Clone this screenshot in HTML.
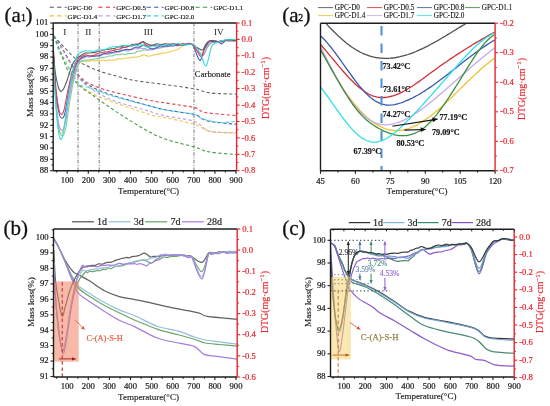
<!DOCTYPE html>
<html><head><meta charset="utf-8"><style>
html,body{margin:0;padding:0;background:#fff;width:550px;height:406px;overflow:hidden}
svg{display:block;filter:blur(0.45px)}
</style></head><body>
<svg width="550" height="406" viewBox="0 0 550 406">
<rect width="550" height="406" fill="#ffffff"/>
<line x1="49.6" y1="7.3" x2="66.6" y2="7.3" stroke="#555555" stroke-width="1.10" stroke-dasharray="4.3,3.2"/>
<text x="67.6" y="9.9" font-family="Liberation Serif" font-size="7.0" fill="#1a1a1a" stroke="#1a1a1a" stroke-width="0.18" text-anchor="start" >GPC-D0</text>
<line x1="98.2" y1="7.3" x2="115.2" y2="7.3" stroke="#e0303a" stroke-width="1.10" stroke-dasharray="4.3,3.2"/>
<text x="116.2" y="9.9" font-family="Liberation Serif" font-size="7.0" fill="#1a1a1a" stroke="#1a1a1a" stroke-width="0.18" text-anchor="start" >GPC-D0.5</text>
<line x1="146.6" y1="7.3" x2="163.6" y2="7.3" stroke="#3a56a8" stroke-width="1.10" stroke-dasharray="4.3,3.2"/>
<text x="164.6" y="9.9" font-family="Liberation Serif" font-size="7.0" fill="#1a1a1a" stroke="#1a1a1a" stroke-width="0.18" text-anchor="start" >GPC-D0.8</text>
<line x1="195.4" y1="7.3" x2="212.4" y2="7.3" stroke="#3c9a3c" stroke-width="1.10" stroke-dasharray="4.3,3.2"/>
<text x="213.4" y="9.9" font-family="Liberation Serif" font-size="7.0" fill="#1a1a1a" stroke="#1a1a1a" stroke-width="0.18" text-anchor="start" >GPC-D1.1</text>
<line x1="49.6" y1="15.9" x2="66.6" y2="15.9" stroke="#f0c030" stroke-width="1.10" stroke-dasharray="4.3,3.2"/>
<text x="67.6" y="18.5" font-family="Liberation Serif" font-size="7.0" fill="#1a1a1a" stroke="#1a1a1a" stroke-width="0.18" text-anchor="start" >GPC-D1.4</text>
<line x1="98.2" y1="15.9" x2="115.2" y2="15.9" stroke="#c8a0e0" stroke-width="1.10" stroke-dasharray="4.3,3.2"/>
<text x="116.2" y="18.5" font-family="Liberation Serif" font-size="7.0" fill="#1a1a1a" stroke="#1a1a1a" stroke-width="0.18" text-anchor="start" >GPC-D1.7</text>
<line x1="146.6" y1="15.9" x2="163.6" y2="15.9" stroke="#30d8e0" stroke-width="1.10" stroke-dasharray="4.3,3.2"/>
<text x="164.6" y="18.5" font-family="Liberation Serif" font-size="7.0" fill="#1a1a1a" stroke="#1a1a1a" stroke-width="0.18" text-anchor="start" >GPC-D2.0</text>
<text x="4.4" y="21.5" font-family="Liberation Serif" font-size="21.0" fill="#111" stroke="#111" stroke-width="0.30" text-anchor="start" >(a</text>
<text x="20.9" y="21.4" font-family="Liberation Serif" font-size="9.8" fill="#111" stroke="#111" stroke-width="0.35" text-anchor="start" >1</text>
<text x="25.4" y="21.5" font-family="Liberation Serif" font-size="21.0" fill="#111" stroke="#111" stroke-width="0.30" text-anchor="start" >)</text>
<line x1="78.0" y1="23.0" x2="78.0" y2="170.7" stroke="#6a6a6a" stroke-width="0.90" stroke-dasharray="3.6,1.5,1,1.5"/>
<line x1="99.2" y1="23.0" x2="99.2" y2="170.7" stroke="#6a6a6a" stroke-width="0.90" stroke-dasharray="3.6,1.5,1,1.5"/>
<line x1="194.0" y1="23.0" x2="194.0" y2="170.7" stroke="#6a6a6a" stroke-width="0.90" stroke-dasharray="3.6,1.5,1,1.5"/>
<path d="M54.0,36.0 C55.0,37.2 57.5,40.0 60.3,43.0 C63.1,46.0 67.5,51.0 70.7,54.1 C73.9,57.2 76.1,59.8 79.3,61.9 C82.5,64.0 86.2,65.4 89.7,67.0 C93.2,68.6 95.0,69.7 100.0,71.4 C105.0,73.1 114.2,75.5 120.0,77.0 C125.8,78.5 127.8,79.3 134.5,80.5 C141.2,81.7 150.0,82.5 160.0,83.9 C170.0,85.3 186.3,87.4 194.5,88.9 C202.7,90.4 202.4,91.9 209.3,92.8 C216.2,93.7 231.6,94.0 236.0,94.2" fill="none" stroke="#666666" stroke-width="1.10" stroke-dasharray="3.2,2.4" stroke-linejoin="round" />
<path d="M54.0,36.0 C55.3,38.0 59.3,43.7 62.0,48.0 C64.7,52.3 67.2,57.4 70.0,62.0 C72.8,66.6 75.7,71.8 79.0,75.5 C82.3,79.2 84.5,81.3 90.0,84.0 C95.5,86.7 102.2,89.0 112.2,91.7 C122.2,94.4 141.2,98.5 150.0,100.4 C158.8,102.3 157.6,101.7 165.0,102.9 C172.4,104.1 187.8,106.0 194.5,107.6 C201.2,109.2 198.4,111.2 205.3,112.5 C212.2,113.8 230.9,115.0 236.0,115.5" fill="none" stroke="#e04048" stroke-width="1.10" stroke-dasharray="3.2,2.4" stroke-linejoin="round" />
<path d="M54.0,36.0 C55.5,38.3 60.2,45.3 63.0,50.0 C65.8,54.7 68.3,59.5 71.0,64.0 C73.7,68.5 75.8,73.3 79.0,77.0 C82.2,80.7 84.5,83.0 90.0,86.0 C95.5,89.0 102.0,91.7 112.0,95.0 C122.0,98.3 141.2,103.5 150.0,106.0 C158.8,108.5 157.6,108.4 165.0,109.8 C172.4,111.2 188.4,113.1 194.5,114.5 C200.6,115.9 198.9,117.2 201.4,118.4 C203.9,119.6 203.5,120.4 209.3,121.4 C215.1,122.4 231.6,123.8 236.0,124.3" fill="none" stroke="#4864b0" stroke-width="1.10" stroke-dasharray="3.2,2.4" stroke-linejoin="round" />
<path d="M54.0,36.0 C55.3,38.2 59.3,44.5 62.0,49.0 C64.7,53.5 67.2,58.2 70.0,63.0 C72.8,67.8 75.7,73.8 79.0,78.0 C82.3,82.2 84.5,84.3 90.0,88.0 C95.5,91.7 102.0,96.1 112.0,100.0 C122.0,103.9 141.2,108.8 150.0,111.5 C158.8,114.2 157.6,114.2 165.0,115.9 C172.4,117.6 187.1,118.9 194.5,121.4 C201.9,124.0 202.4,129.3 209.3,131.2 C216.2,133.1 231.6,132.5 236.0,132.8" fill="none" stroke="#bca0e2" stroke-width="1.10" stroke-dasharray="3.2,2.4" stroke-linejoin="round" />
<path d="M54.0,36.0 C54.8,38.0 57.0,43.7 59.0,48.0 C61.0,52.3 62.7,56.0 66.0,62.0 C69.3,68.0 75.0,79.0 79.0,84.0 C83.0,89.0 85.9,89.6 90.0,92.0 C94.1,94.4 93.6,94.8 103.6,98.6 C113.6,102.4 139.8,111.4 150.0,114.6 C160.2,117.8 157.6,116.0 165.0,117.6 C172.4,119.2 187.1,122.1 194.5,124.3 C201.9,126.5 202.4,129.5 209.3,131.0 C216.2,132.5 231.6,132.8 236.0,133.2" fill="none" stroke="#f0c448" stroke-width="1.10" stroke-dasharray="3.2,2.4" stroke-linejoin="round" />
<path d="M54.0,36.0 C54.8,38.3 56.7,45.3 58.6,49.8 C60.5,54.3 62.1,57.2 65.5,62.8 C68.9,68.4 74.9,79.2 79.0,83.4 C83.1,87.6 84.5,85.9 90.0,88.0 C95.5,90.1 102.0,93.0 112.0,96.0 C122.0,99.0 141.2,103.7 150.0,106.0 C158.8,108.3 157.6,108.4 165.0,109.8 C172.4,111.2 188.4,113.1 194.5,114.5 C200.6,115.9 197.3,117.1 201.4,118.4 C205.5,119.7 213.3,121.9 219.1,122.4 C224.9,122.9 233.2,121.6 236.0,121.4" fill="none" stroke="#48d8e8" stroke-width="1.10" stroke-dasharray="3.2,2.4" stroke-linejoin="round" />
<path d="M54.0,36.0 C55.3,39.3 59.5,49.7 62.0,55.9 C64.5,62.1 66.2,68.2 69.0,73.1 C71.8,78.0 74.7,81.2 79.0,85.2 C83.3,89.2 89.5,92.9 95.0,96.9 C100.5,100.9 106.5,105.1 112.2,109.0 C118.0,112.9 123.8,116.6 129.5,120.2 C135.2,123.8 140.8,127.3 146.7,130.5 C152.6,133.7 157.0,136.3 165.0,139.1 C173.0,141.8 187.1,144.9 194.5,147.0 C201.9,149.1 202.4,150.7 209.3,151.9 C216.2,153.2 231.6,154.1 236.0,154.5" fill="none" stroke="#449c44" stroke-width="1.10" stroke-dasharray="3.2,2.4" stroke-linejoin="round" />
<path d="M53.5,60.0 C53.9,67.5 55.1,93.7 56.0,105.0 C56.9,116.3 58.1,123.3 59.0,128.0 C59.9,132.7 60.3,133.4 61.1,133.2 C61.9,133.0 62.9,131.9 64.0,127.0 C65.2,122.1 66.5,111.8 68.0,104.0 C69.5,96.2 71.3,86.5 73.0,80.0 C74.7,73.5 76.2,68.2 78.0,65.0 C79.8,61.8 82.5,61.6 84.0,61.0 C85.5,60.4 86.0,61.7 87.0,61.7 C88.0,61.7 89.1,61.2 90.0,61.0 C90.9,60.8 91.7,60.2 92.5,60.2 C93.3,60.2 94.2,61.1 95.0,61.1 C95.8,61.1 96.7,60.1 97.5,60.1 C98.3,60.2 99.2,61.3 100.0,61.2 C100.8,61.1 101.7,59.8 102.5,59.7 C103.3,59.6 104.2,60.7 105.0,60.8 C105.8,60.9 106.7,60.5 107.5,60.4 C108.3,60.2 109.2,60.0 110.0,60.0 C110.8,60.0 111.7,60.2 112.5,60.3 C113.3,60.3 114.2,60.4 115.0,60.2 C115.8,60.0 116.7,59.1 117.5,58.9 C118.3,58.6 119.2,58.7 120.0,58.8 C120.8,58.8 121.7,59.1 122.5,59.0 C123.3,58.9 124.2,58.4 125.0,58.2 C125.8,58.0 126.7,58.0 127.5,57.9 C128.3,57.9 129.2,58.1 130.0,58.0 C130.8,57.9 131.7,57.2 132.5,57.1 C133.3,57.0 134.2,57.5 135.0,57.5 C135.8,57.5 136.7,57.2 137.5,57.0 C138.3,56.8 139.2,56.7 140.0,56.4 C140.8,56.1 141.7,55.3 142.5,55.1 C143.3,54.9 144.2,54.8 145.0,55.0 C145.8,55.2 146.7,55.9 147.5,56.1 C148.3,56.3 149.2,56.1 150.0,56.0 C150.8,55.9 151.7,55.7 152.5,55.5 C153.3,55.3 154.2,54.8 155.0,54.6 C155.8,54.4 156.7,54.6 157.5,54.4 C158.3,54.3 159.2,54.1 160.0,53.9 C160.8,53.6 161.7,53.0 162.5,52.9 C163.3,52.8 164.2,53.2 165.0,53.1 C165.8,53.0 166.7,52.5 167.5,52.3 C168.3,52.1 169.2,52.2 170.0,52.0 C170.8,51.8 171.7,51.4 172.5,51.1 C173.3,50.8 174.2,50.3 175.0,50.0 C175.8,49.7 176.7,49.7 177.5,49.4 C178.3,49.0 179.2,48.2 180.0,47.7 C180.8,47.2 181.7,46.6 182.5,46.1 C183.3,45.7 184.2,45.2 185.0,45.0 C185.8,44.8 186.7,45.0 187.5,44.8 C188.3,44.6 188.9,43.6 190.0,43.6 C191.1,43.6 192.7,43.9 194.0,45.0 C195.3,46.1 196.5,48.3 198.0,50.0 C199.5,51.7 201.5,55.3 203.0,55.0 C204.5,54.7 205.7,50.0 207.0,48.0 C208.3,46.0 209.7,43.9 211.0,43.0 C212.3,42.1 213.4,42.7 214.7,42.6 C215.9,42.4 217.3,42.1 218.3,42.0 C219.3,41.9 220.0,41.9 220.9,41.8 C221.7,41.7 222.6,41.5 223.4,41.3 C224.3,41.1 225.2,40.5 226.0,40.5 C226.8,40.5 227.7,41.1 228.5,41.1 C229.3,41.1 230.2,40.4 231.0,40.5 C231.8,40.6 232.7,41.3 233.5,41.4 C234.3,41.5 235.6,41.1 236.0,41.0" fill="none" stroke="#f0cc50" stroke-width="1.10" stroke-linejoin="round" />
<path d="M53.5,58.0 C53.9,65.8 55.1,93.0 56.0,105.0 C56.9,117.0 57.8,124.9 59.0,130.0 C60.2,135.1 61.8,135.9 63.0,135.4 C64.2,134.9 64.8,132.9 66.0,127.0 C67.2,121.1 68.5,108.7 70.0,100.0 C71.5,91.3 73.3,81.3 75.0,75.0 C76.7,68.7 77.8,64.5 80.0,62.0 C82.2,59.5 86.3,60.3 88.0,60.0 C89.7,59.7 89.2,60.1 90.0,60.0 C90.8,59.9 91.7,59.5 92.5,59.3 C93.3,59.1 94.2,59.1 95.0,59.0 C95.8,58.8 96.7,58.6 97.5,58.4 C98.3,58.2 99.2,58.1 100.0,57.9 C100.8,57.8 101.7,57.5 102.5,57.4 C103.3,57.3 104.2,57.4 105.0,57.2 C105.8,57.0 106.7,56.4 107.5,56.2 C108.3,56.0 109.2,56.0 110.0,56.0 C110.8,56.0 111.7,56.1 112.5,55.9 C113.3,55.7 114.2,54.9 115.0,54.7 C115.8,54.5 116.7,54.8 117.5,54.8 C118.3,54.8 119.2,54.7 120.0,54.6 C120.8,54.4 121.7,54.0 122.5,54.0 C123.3,54.0 124.2,54.6 125.0,54.5 C125.8,54.5 126.7,53.8 127.5,53.6 C128.3,53.5 129.2,53.7 130.0,53.6 C130.8,53.5 131.7,53.4 132.6,53.3 C133.5,53.2 134.3,53.2 135.2,52.8 C136.1,52.4 136.9,51.3 137.8,51.1 C138.7,50.8 139.5,51.5 140.4,51.3 C141.3,51.1 142.1,50.2 143.0,50.0 C143.9,49.8 144.9,50.2 145.8,50.1 C146.8,50.0 147.7,49.9 148.7,49.6 C149.6,49.3 150.6,48.5 151.5,48.3 C152.4,48.2 153.4,48.6 154.3,48.6 C155.3,48.6 156.2,48.6 157.2,48.5 C158.1,48.4 159.1,48.2 160.0,48.0 C160.9,47.8 161.7,47.5 162.5,47.3 C163.3,47.2 164.2,47.0 165.0,46.9 C165.8,46.7 166.7,46.7 167.5,46.6 C168.3,46.5 169.2,46.2 170.0,46.2 C170.8,46.1 171.7,46.6 172.5,46.5 C173.3,46.4 174.2,45.7 175.0,45.5 C175.8,45.3 176.7,45.4 177.5,45.3 C178.3,45.2 179.2,45.1 180.0,45.0 C180.8,44.9 181.7,44.9 182.5,45.0 C183.3,45.0 184.2,45.3 185.0,45.1 C185.8,45.0 186.7,44.1 187.5,44.0 C188.3,43.8 188.9,43.7 190.0,44.0 C191.1,44.3 192.7,44.3 194.0,45.5 C195.3,46.7 196.5,49.3 198.0,51.0 C199.5,52.7 201.5,56.0 203.0,55.5 C204.5,55.0 205.7,50.1 207.0,48.0 C208.3,45.9 209.7,44.0 211.0,43.0 C212.3,42.0 213.4,42.5 214.7,42.3 C215.9,42.1 217.3,42.0 218.3,42.0 C219.3,42.0 220.0,42.2 220.9,42.1 C221.7,42.0 222.6,41.8 223.4,41.6 C224.3,41.3 225.2,40.6 226.0,40.5 C226.8,40.4 227.7,41.0 228.5,41.1 C229.3,41.2 230.2,41.1 231.0,41.1 C231.8,41.1 232.7,41.3 233.5,41.3 C234.3,41.3 235.6,41.1 236.0,41.0" fill="none" stroke="#80cca0" stroke-width="1.10" stroke-linejoin="round" />
<path d="M53.5,55.0 C53.9,62.5 55.1,88.3 56.0,100.0 C56.9,111.7 57.9,120.0 59.0,125.0 C60.1,130.0 61.4,130.5 62.5,130.0 C63.6,129.5 64.4,127.3 65.5,122.0 C66.6,116.7 67.6,106.0 69.0,98.0 C70.4,90.0 72.3,80.2 74.0,74.0 C75.7,67.8 77.0,63.8 79.0,61.0 C81.0,58.2 84.2,57.7 86.0,57.0 C87.8,56.3 88.9,57.2 90.0,57.0 C91.1,56.8 91.7,56.1 92.5,56.0 C93.3,55.9 94.2,56.4 95.0,56.4 C95.8,56.4 96.7,56.0 97.5,55.9 C98.3,55.8 99.2,56.1 100.0,55.9 C100.8,55.6 101.7,54.8 102.5,54.5 C103.3,54.2 104.2,54.1 105.0,54.0 C105.8,54.0 106.7,54.3 107.5,54.3 C108.3,54.2 109.2,54.0 110.0,53.7 C110.8,53.5 111.7,52.9 112.5,52.8 C113.3,52.6 114.2,53.0 115.0,52.9 C115.8,52.8 116.7,52.2 117.5,52.0 C118.3,51.9 119.2,52.3 120.0,52.1 C120.8,51.9 121.7,51.1 122.5,50.8 C123.3,50.5 124.2,50.5 125.0,50.5 C125.8,50.5 126.7,51.1 127.5,51.0 C128.3,50.9 129.2,50.3 130.0,50.0 C130.8,49.7 131.7,49.5 132.5,49.3 C133.3,49.1 134.2,48.7 135.0,48.7 C135.8,48.6 136.7,49.0 137.5,48.9 C138.3,48.8 139.2,48.0 140.0,48.0 C140.8,48.0 141.7,48.6 142.5,48.7 C143.3,48.8 144.2,48.4 145.0,48.5 C145.8,48.7 146.7,49.3 147.5,49.6 C148.3,49.8 149.2,50.0 150.0,50.0 C150.8,50.0 151.7,50.0 152.5,49.7 C153.3,49.5 154.2,48.7 155.0,48.5 C155.8,48.4 156.7,48.9 157.5,48.7 C158.3,48.5 159.2,47.7 160.0,47.5 C160.8,47.2 161.7,47.4 162.5,47.3 C163.3,47.1 164.2,46.6 165.0,46.4 C165.8,46.2 166.7,46.2 167.5,46.1 C168.3,46.0 169.2,45.9 170.0,46.0 C170.8,46.1 171.7,46.5 172.5,46.4 C173.3,46.3 174.2,45.4 175.0,45.4 C175.8,45.3 176.7,46.0 177.5,45.9 C178.3,45.9 179.2,45.1 180.0,44.9 C180.8,44.7 181.7,44.9 182.5,44.9 C183.3,44.9 184.2,45.1 185.0,45.0 C185.8,45.0 186.7,44.7 187.5,44.5 C188.3,44.3 189.1,43.9 190.0,44.0 C190.9,44.1 191.8,44.0 193.0,45.0 C194.2,46.0 195.3,48.2 197.0,50.0 C198.7,51.8 201.3,56.0 203.0,55.5 C204.7,55.0 205.7,49.2 207.0,47.0 C208.3,44.8 209.7,43.3 211.0,42.5 C212.3,41.7 213.4,42.4 214.7,42.3 C215.9,42.2 217.3,42.1 218.3,42.0 C219.3,41.9 220.0,41.7 220.9,41.6 C221.7,41.5 222.6,41.6 223.4,41.4 C224.3,41.2 225.2,40.6 226.0,40.5 C226.8,40.4 227.7,40.9 228.5,41.0 C229.3,41.1 230.2,41.1 231.0,41.0 C231.8,40.9 232.7,40.4 233.5,40.3 C234.3,40.3 235.6,40.5 236.0,40.5" fill="none" stroke="#b898e4" stroke-width="1.10" stroke-linejoin="round" />
<path d="M53.5,55.0 C53.9,61.2 55.1,82.3 56.0,92.0 C56.9,101.7 58.0,108.6 59.0,113.0 C60.0,117.4 61.0,118.3 62.0,118.3 C63.0,118.3 63.8,117.7 65.0,113.0 C66.2,108.3 67.5,97.2 69.0,90.0 C70.5,82.8 72.3,75.0 74.0,70.0 C75.7,65.0 77.0,62.3 79.0,60.0 C81.0,57.7 84.3,56.7 86.0,56.0 C87.7,55.3 88.0,55.6 89.0,55.7 C90.0,55.7 91.0,56.2 92.0,56.3 C93.0,56.3 94.1,56.1 95.0,56.0 C95.9,55.9 96.7,55.8 97.5,55.8 C98.3,55.7 99.2,55.8 100.0,55.5 C100.8,55.2 101.7,54.4 102.5,54.1 C103.3,53.7 104.2,53.8 105.0,53.6 C105.8,53.4 106.7,53.2 107.5,53.0 C108.3,52.8 109.2,52.6 110.0,52.6 C110.8,52.6 111.7,53.0 112.5,52.8 C113.3,52.6 114.2,51.7 115.0,51.5 C115.8,51.3 116.7,51.6 117.5,51.5 C118.3,51.5 119.2,51.2 120.0,51.0 C120.8,50.8 121.7,50.3 122.5,50.1 C123.3,49.9 124.2,49.8 125.0,49.7 C125.8,49.6 126.7,49.4 127.5,49.4 C128.3,49.4 129.2,49.6 130.0,49.5 C130.8,49.3 131.7,49.0 132.5,48.7 C133.3,48.3 134.2,47.6 135.0,47.3 C135.8,47.1 136.7,47.2 137.5,47.2 C138.3,47.1 139.2,47.3 140.0,47.0 C140.8,46.7 141.7,45.8 142.5,45.5 C143.3,45.2 144.0,44.7 145.0,45.0 C146.0,45.3 147.3,46.9 148.5,47.5 C149.7,48.2 151.0,48.8 152.0,49.0 C153.0,49.2 153.8,48.7 154.7,48.4 C155.6,48.2 156.4,47.8 157.3,47.4 C158.2,47.0 159.1,46.2 160.0,46.0 C160.9,45.8 161.7,46.3 162.5,46.3 C163.3,46.3 164.2,46.0 165.0,46.0 C165.8,46.0 166.7,46.2 167.5,46.1 C168.3,46.1 169.2,46.0 170.0,45.7 C170.8,45.5 171.7,45.0 172.5,44.8 C173.3,44.7 174.2,44.9 175.0,45.0 C175.8,45.1 176.7,45.4 177.5,45.3 C178.3,45.3 179.2,44.7 180.0,44.6 C180.8,44.6 181.7,44.9 182.5,44.9 C183.3,44.8 184.2,44.6 185.0,44.4 C185.8,44.3 186.7,44.1 187.5,44.1 C188.3,44.0 189.1,43.8 190.0,44.0 C190.9,44.2 192.0,44.0 192.8,45.0 C193.6,46.0 193.8,47.4 195.0,50.0 C196.2,52.6 198.5,60.5 200.0,60.5 C201.5,60.5 202.4,53.2 204.0,50.0 C205.6,46.8 208.0,42.9 209.4,41.5 C210.8,40.1 211.4,41.6 212.4,41.6 C213.4,41.7 214.3,41.7 215.3,41.7 C216.3,41.7 217.3,41.2 218.3,41.6 C219.3,42.0 220.3,44.2 221.6,43.9 C222.9,43.6 224.8,40.6 226.0,40.0 C227.2,39.4 227.7,40.5 228.5,40.5 C229.3,40.5 230.2,40.0 231.0,40.0 C231.8,40.0 232.7,40.5 233.5,40.6 C234.3,40.6 235.6,40.5 236.0,40.5" fill="none" stroke="#4a5cb0" stroke-width="1.10" stroke-linejoin="round" />
<path d="M53.5,55.0 C53.9,60.8 55.1,80.8 56.0,90.0 C56.9,99.2 58.1,105.9 59.0,110.0 C59.9,114.1 60.8,114.4 61.6,114.4 C62.4,114.4 62.9,114.1 64.0,110.0 C65.1,105.9 66.5,96.7 68.0,90.0 C69.5,83.3 71.3,75.2 73.0,70.0 C74.7,64.8 76.0,61.5 78.0,59.0 C80.0,56.5 83.4,55.6 85.0,55.0 C86.6,54.4 86.7,55.3 87.5,55.5 C88.3,55.6 89.2,56.0 90.0,56.0 C90.8,56.0 91.7,55.8 92.5,55.6 C93.3,55.4 94.2,55.3 95.0,55.0 C95.8,54.7 96.7,54.0 97.5,53.6 C98.3,53.3 99.2,53.0 100.0,52.8 C100.8,52.7 101.7,52.8 102.5,52.7 C103.3,52.6 104.2,52.0 105.0,51.9 C105.8,51.8 106.7,52.2 107.5,52.1 C108.3,51.9 109.2,51.2 110.0,51.0 C110.8,50.8 111.7,50.9 112.5,50.7 C113.3,50.5 114.2,50.2 115.0,50.0 C115.8,49.8 116.7,49.5 117.5,49.3 C118.3,49.2 119.2,49.2 120.0,48.9 C120.8,48.6 121.7,47.8 122.5,47.6 C123.3,47.4 124.2,47.6 125.0,47.5 C125.8,47.4 126.7,47.0 127.6,46.7 C128.4,46.4 129.3,45.7 130.1,45.6 C131.0,45.4 131.9,46.1 132.7,45.9 C133.6,45.6 134.4,44.2 135.3,44.0 C136.1,43.7 137.0,44.5 137.9,44.3 C138.7,44.1 139.6,42.9 140.4,42.5 C141.3,42.2 142.2,42.1 143.0,42.4 C143.8,42.7 144.7,43.9 145.5,44.5 C146.3,45.1 147.0,45.8 148.0,46.0 C149.0,46.2 150.3,45.6 151.5,45.5 C152.7,45.4 154.0,45.6 155.0,45.5 C156.0,45.4 156.7,45.2 157.5,45.2 C158.3,45.2 159.2,45.8 160.0,45.6 C160.8,45.5 161.7,44.6 162.5,44.3 C163.3,44.1 164.2,44.1 165.0,44.2 C165.8,44.4 166.7,45.2 167.5,45.2 C168.3,45.3 169.2,44.6 170.0,44.5 C170.8,44.4 171.7,44.6 172.5,44.4 C173.3,44.3 174.2,43.7 175.0,43.8 C175.8,43.9 176.7,44.8 177.5,45.0 C178.3,45.2 179.2,45.1 180.0,44.9 C180.8,44.7 181.7,43.8 182.5,43.6 C183.3,43.5 184.2,44.0 185.0,44.0 C185.8,44.0 186.7,43.6 187.5,43.6 C188.3,43.5 189.1,43.8 190.0,44.0 C190.9,44.2 191.8,43.8 193.0,45.0 C194.2,46.2 195.6,49.1 197.0,51.0 C198.4,52.9 200.3,57.4 201.6,56.6 C202.9,55.8 203.7,48.6 205.0,46.0 C206.3,43.4 208.2,41.9 209.4,41.0 C210.6,40.1 211.4,40.7 212.4,40.7 C213.4,40.7 214.3,40.9 215.3,41.1 C216.3,41.2 217.4,41.6 218.3,41.6 C219.2,41.6 220.0,40.9 220.9,40.8 C221.7,40.7 222.6,41.2 223.4,41.0 C224.3,40.9 225.2,40.1 226.0,40.0 C226.8,39.9 227.7,40.0 228.5,40.1 C229.3,40.2 230.2,40.6 231.0,40.5 C231.8,40.5 232.7,39.9 233.5,39.9 C234.3,39.9 235.6,40.4 236.0,40.5" fill="none" stroke="#d84050" stroke-width="1.10" stroke-linejoin="round" />
<path d="M53.5,50.0 C53.8,53.3 54.2,64.0 55.0,70.0 C55.8,76.0 57.0,82.4 58.0,86.0 C59.0,89.6 60.0,91.1 61.0,91.4 C62.0,91.7 63.0,89.9 64.0,88.0 C65.0,86.1 65.8,83.9 67.2,80.0 C68.6,76.1 70.7,68.2 72.4,64.5 C74.1,60.8 75.6,59.5 77.6,57.6 C79.6,55.7 82.9,54.1 84.5,53.3 C86.1,52.5 86.3,53.1 87.2,53.1 C88.2,53.0 89.1,53.1 90.0,53.0 C90.9,52.9 91.7,52.7 92.5,52.6 C93.3,52.5 94.2,52.8 95.0,52.6 C95.8,52.4 96.7,51.7 97.5,51.5 C98.3,51.2 99.2,51.1 100.0,51.0 C100.8,50.9 101.7,50.9 102.5,50.6 C103.3,50.4 104.2,49.7 105.0,49.6 C105.8,49.4 106.7,49.6 107.5,49.5 C108.3,49.4 109.2,49.1 110.0,49.0 C110.8,48.9 111.7,48.8 112.5,48.7 C113.3,48.6 114.2,48.7 115.0,48.4 C115.8,48.1 116.7,47.2 117.5,46.9 C118.3,46.7 119.2,47.1 120.0,47.0 C120.8,46.9 121.7,46.5 122.6,46.3 C123.4,46.1 124.3,45.6 125.1,45.6 C126.0,45.5 126.9,46.1 127.7,46.1 C128.6,46.1 129.4,45.9 130.3,45.6 C131.1,45.2 132.0,44.3 132.9,44.2 C133.7,44.1 134.6,45.1 135.4,45.1 C136.3,45.1 137.2,44.3 138.0,44.0 C138.8,43.7 139.7,43.9 140.5,43.5 C141.3,43.1 142.0,41.6 143.0,41.6 C144.0,41.6 145.3,42.9 146.5,43.5 C147.7,44.1 149.0,44.8 150.0,45.0 C151.0,45.2 151.7,45.1 152.5,45.0 C153.3,44.9 154.2,44.4 155.0,44.2 C155.8,44.0 156.7,43.8 157.5,43.9 C158.3,43.9 159.2,44.3 160.0,44.4 C160.8,44.5 161.7,44.6 162.5,44.5 C163.3,44.4 164.2,43.9 165.0,43.8 C165.8,43.7 166.7,44.0 167.5,44.0 C168.3,44.1 169.2,44.1 170.0,44.1 C170.8,44.1 171.7,43.8 172.5,43.8 C173.3,43.9 174.2,44.4 175.0,44.5 C175.8,44.6 176.7,44.4 177.5,44.4 C178.3,44.3 179.2,44.2 180.0,44.3 C180.8,44.3 181.7,44.7 182.5,44.7 C183.3,44.7 184.2,44.3 185.0,44.2 C185.8,44.1 186.7,44.3 187.5,44.3 C188.3,44.2 189.1,44.0 190.0,44.0 C190.9,44.0 191.8,43.9 193.0,44.5 C194.2,45.1 195.4,46.6 197.0,47.5 C198.6,48.4 201.2,50.6 202.7,50.0 C204.2,49.4 204.9,45.5 206.0,44.0 C207.1,42.5 208.3,41.6 209.4,41.0 C210.5,40.4 211.4,40.6 212.4,40.6 C213.4,40.6 214.3,40.8 215.3,40.9 C216.3,41.1 217.4,41.6 218.3,41.6 C219.2,41.6 220.0,41.0 220.9,40.9 C221.7,40.7 222.6,40.8 223.4,40.6 C224.3,40.4 225.2,40.0 226.0,39.8 C226.8,39.6 227.7,39.6 228.5,39.5 C229.3,39.5 230.2,39.6 231.0,39.7 C231.8,39.8 232.7,39.9 233.5,40.0 C234.3,40.1 235.6,40.4 236.0,40.5" fill="none" stroke="#606060" stroke-width="1.10" stroke-linejoin="round" />
<path d="M53.5,62.0 C53.8,68.3 54.8,89.0 55.5,100.0 C56.2,111.0 57.2,121.5 58.0,128.0 C58.8,134.6 59.6,138.6 60.5,139.3 C61.4,140.0 62.4,137.6 63.5,132.0 C64.6,126.5 65.6,115.3 67.0,106.0 C68.4,96.7 70.3,84.3 72.0,76.0 C73.7,67.7 74.9,60.2 77.0,56.0 C79.1,51.8 82.8,51.8 84.5,51.0 C86.2,50.2 86.3,51.0 87.2,51.0 C88.2,51.0 89.1,51.0 90.0,51.0 C90.9,51.0 91.7,51.2 92.5,51.2 C93.3,51.2 94.2,51.3 95.0,51.1 C95.8,50.9 96.7,50.1 97.5,50.0 C98.3,49.8 99.2,50.0 100.0,50.0 C100.8,50.0 101.7,50.0 102.5,49.9 C103.3,49.8 104.2,49.5 105.0,49.3 C105.8,49.1 106.7,49.0 107.5,48.7 C108.3,48.4 109.2,47.8 110.0,47.5 C110.8,47.1 111.7,46.9 112.5,46.8 C113.3,46.7 114.2,46.8 115.0,46.8 C115.8,46.8 116.7,47.0 117.5,46.8 C118.3,46.7 119.2,46.2 120.0,46.0 C120.8,45.8 121.7,45.6 122.5,45.5 C123.3,45.5 124.2,45.8 125.0,45.8 C125.8,45.7 126.7,45.3 127.5,45.4 C128.3,45.4 129.2,45.9 130.0,46.0 C130.8,46.1 131.7,46.1 132.5,46.0 C133.3,45.9 134.2,45.1 135.0,45.1 C135.8,45.1 136.7,45.8 137.5,45.8 C138.3,45.8 139.2,45.2 140.0,45.0 C140.8,44.8 141.7,44.6 142.5,44.9 C143.3,45.1 144.2,46.1 145.0,46.4 C145.8,46.8 146.7,46.9 147.5,47.0 C148.3,47.1 149.2,47.2 150.0,47.0 C150.8,46.8 151.7,46.1 152.5,46.0 C153.3,45.9 154.2,46.4 155.0,46.3 C155.8,46.2 156.7,45.8 157.5,45.6 C158.3,45.4 159.2,45.0 160.0,45.0 C160.8,45.0 161.7,45.6 162.5,45.5 C163.3,45.4 164.2,44.5 165.0,44.3 C165.8,44.2 166.7,44.6 167.5,44.7 C168.3,44.8 169.2,45.1 170.0,45.0 C170.8,45.0 171.7,44.7 172.5,44.6 C173.3,44.4 174.2,44.2 175.0,44.0 C175.8,43.8 176.7,43.5 177.5,43.5 C178.3,43.5 179.1,43.8 180.0,44.0 C180.9,44.2 182.0,44.6 183.0,44.6 C184.0,44.6 185.0,44.0 186.0,44.0 C187.0,44.0 188.0,44.7 189.0,44.7 C190.0,44.7 190.8,43.6 192.0,44.0 C193.2,44.4 194.5,45.2 196.0,47.0 C197.5,48.8 199.4,51.8 201.0,55.0 C202.6,58.2 204.2,65.5 205.5,66.0 C206.8,66.5 207.8,60.9 208.8,57.7 C209.8,54.5 210.4,49.1 211.6,46.6 C212.8,44.1 214.8,43.4 216.0,42.7 C217.2,42.0 217.7,42.5 218.5,42.1 C219.3,41.8 220.2,40.9 221.0,40.6 C221.8,40.3 222.7,40.6 223.5,40.4 C224.3,40.3 225.2,39.6 226.0,39.5 C226.8,39.4 227.7,39.8 228.5,39.9 C229.3,40.0 230.2,40.0 231.0,39.9 C231.8,39.8 232.7,39.6 233.5,39.5 C234.3,39.5 235.6,39.5 236.0,39.5" fill="none" stroke="#38d8e0" stroke-width="1.10" stroke-linejoin="round" />
<line x1="53.2" y1="23.0" x2="236.6" y2="23.0" stroke="#1e1e1e" stroke-width="1.40" />
<line x1="53.2" y1="170.7" x2="236.6" y2="170.7" stroke="#1e1e1e" stroke-width="1.40" />
<line x1="53.2" y1="23.0" x2="53.2" y2="170.7" stroke="#1e1e1e" stroke-width="1.40" />
<line x1="236.6" y1="23.0" x2="236.6" y2="170.7" stroke="#e8242c" stroke-width="1.40" />
<line x1="50.2" y1="170.7" x2="53.2" y2="170.7" stroke="#1e1e1e" stroke-width="1.10" />
<text transform="translate(48.3,173.0) scale(1.04,1)" font-family="Liberation Serif" font-size="8.3" fill="#1a1a1a" stroke="#1a1a1a" stroke-width="0.2" text-anchor="end">88</text>
<line x1="51.4" y1="165.0" x2="53.2" y2="165.0" stroke="#1e1e1e" stroke-width="1.00" />
<line x1="50.2" y1="159.3" x2="53.2" y2="159.3" stroke="#1e1e1e" stroke-width="1.10" />
<text transform="translate(48.3,161.6) scale(1.04,1)" font-family="Liberation Serif" font-size="8.3" fill="#1a1a1a" stroke="#1a1a1a" stroke-width="0.2" text-anchor="end">89</text>
<line x1="51.4" y1="153.7" x2="53.2" y2="153.7" stroke="#1e1e1e" stroke-width="1.00" />
<line x1="50.2" y1="148.0" x2="53.2" y2="148.0" stroke="#1e1e1e" stroke-width="1.10" />
<text transform="translate(48.3,150.3) scale(1.04,1)" font-family="Liberation Serif" font-size="8.3" fill="#1a1a1a" stroke="#1a1a1a" stroke-width="0.2" text-anchor="end">90</text>
<line x1="51.4" y1="142.3" x2="53.2" y2="142.3" stroke="#1e1e1e" stroke-width="1.00" />
<line x1="50.2" y1="136.6" x2="53.2" y2="136.6" stroke="#1e1e1e" stroke-width="1.10" />
<text transform="translate(48.3,138.9) scale(1.04,1)" font-family="Liberation Serif" font-size="8.3" fill="#1a1a1a" stroke="#1a1a1a" stroke-width="0.2" text-anchor="end">91</text>
<line x1="51.4" y1="130.9" x2="53.2" y2="130.9" stroke="#1e1e1e" stroke-width="1.00" />
<line x1="50.2" y1="125.3" x2="53.2" y2="125.3" stroke="#1e1e1e" stroke-width="1.10" />
<text transform="translate(48.3,127.6) scale(1.04,1)" font-family="Liberation Serif" font-size="8.3" fill="#1a1a1a" stroke="#1a1a1a" stroke-width="0.2" text-anchor="end">92</text>
<line x1="51.4" y1="119.6" x2="53.2" y2="119.6" stroke="#1e1e1e" stroke-width="1.00" />
<line x1="50.2" y1="113.9" x2="53.2" y2="113.9" stroke="#1e1e1e" stroke-width="1.10" />
<text transform="translate(48.3,116.2) scale(1.04,1)" font-family="Liberation Serif" font-size="8.3" fill="#1a1a1a" stroke="#1a1a1a" stroke-width="0.2" text-anchor="end">93</text>
<line x1="51.4" y1="108.2" x2="53.2" y2="108.2" stroke="#1e1e1e" stroke-width="1.00" />
<line x1="50.2" y1="102.5" x2="53.2" y2="102.5" stroke="#1e1e1e" stroke-width="1.10" />
<text transform="translate(48.3,104.8) scale(1.04,1)" font-family="Liberation Serif" font-size="8.3" fill="#1a1a1a" stroke="#1a1a1a" stroke-width="0.2" text-anchor="end">94</text>
<line x1="51.4" y1="96.8" x2="53.2" y2="96.8" stroke="#1e1e1e" stroke-width="1.00" />
<line x1="50.2" y1="91.2" x2="53.2" y2="91.2" stroke="#1e1e1e" stroke-width="1.10" />
<text transform="translate(48.3,93.5) scale(1.04,1)" font-family="Liberation Serif" font-size="8.3" fill="#1a1a1a" stroke="#1a1a1a" stroke-width="0.2" text-anchor="end">95</text>
<line x1="51.4" y1="85.5" x2="53.2" y2="85.5" stroke="#1e1e1e" stroke-width="1.00" />
<line x1="50.2" y1="79.8" x2="53.2" y2="79.8" stroke="#1e1e1e" stroke-width="1.10" />
<text transform="translate(48.3,82.1) scale(1.04,1)" font-family="Liberation Serif" font-size="8.3" fill="#1a1a1a" stroke="#1a1a1a" stroke-width="0.2" text-anchor="end">96</text>
<line x1="51.4" y1="74.1" x2="53.2" y2="74.1" stroke="#1e1e1e" stroke-width="1.00" />
<line x1="50.2" y1="68.4" x2="53.2" y2="68.4" stroke="#1e1e1e" stroke-width="1.10" />
<text transform="translate(48.3,70.7) scale(1.04,1)" font-family="Liberation Serif" font-size="8.3" fill="#1a1a1a" stroke="#1a1a1a" stroke-width="0.2" text-anchor="end">97</text>
<line x1="51.4" y1="62.8" x2="53.2" y2="62.8" stroke="#1e1e1e" stroke-width="1.00" />
<line x1="50.2" y1="57.1" x2="53.2" y2="57.1" stroke="#1e1e1e" stroke-width="1.10" />
<text transform="translate(48.3,59.4) scale(1.04,1)" font-family="Liberation Serif" font-size="8.3" fill="#1a1a1a" stroke="#1a1a1a" stroke-width="0.2" text-anchor="end">98</text>
<line x1="51.4" y1="51.4" x2="53.2" y2="51.4" stroke="#1e1e1e" stroke-width="1.00" />
<line x1="50.2" y1="45.7" x2="53.2" y2="45.7" stroke="#1e1e1e" stroke-width="1.10" />
<text transform="translate(48.3,48.0) scale(1.04,1)" font-family="Liberation Serif" font-size="8.3" fill="#1a1a1a" stroke="#1a1a1a" stroke-width="0.2" text-anchor="end">99</text>
<line x1="51.4" y1="40.0" x2="53.2" y2="40.0" stroke="#1e1e1e" stroke-width="1.00" />
<line x1="50.2" y1="34.4" x2="53.2" y2="34.4" stroke="#1e1e1e" stroke-width="1.10" />
<text transform="translate(48.3,36.7) scale(1.04,1)" font-family="Liberation Serif" font-size="8.3" fill="#1a1a1a" stroke="#1a1a1a" stroke-width="0.2" text-anchor="end">100</text>
<line x1="51.4" y1="28.7" x2="53.2" y2="28.7" stroke="#1e1e1e" stroke-width="1.00" />
<line x1="50.2" y1="23.0" x2="53.2" y2="23.0" stroke="#1e1e1e" stroke-width="1.10" />
<text transform="translate(48.3,25.3) scale(1.04,1)" font-family="Liberation Serif" font-size="8.3" fill="#1a1a1a" stroke="#1a1a1a" stroke-width="0.2" text-anchor="end">101</text>
<line x1="67.2" y1="170.7" x2="67.2" y2="173.7" stroke="#1e1e1e" stroke-width="1.10" />
<text transform="translate(67.2,183.0) scale(1.04,1)" font-family="Liberation Serif" font-size="8.3" fill="#1a1a1a" stroke="#1a1a1a" stroke-width="0.2" text-anchor="middle">100</text>
<line x1="88.3" y1="170.7" x2="88.3" y2="173.7" stroke="#1e1e1e" stroke-width="1.10" />
<text transform="translate(88.3,183.0) scale(1.04,1)" font-family="Liberation Serif" font-size="8.3" fill="#1a1a1a" stroke="#1a1a1a" stroke-width="0.2" text-anchor="middle">200</text>
<line x1="109.4" y1="170.7" x2="109.4" y2="173.7" stroke="#1e1e1e" stroke-width="1.10" />
<text transform="translate(109.4,183.0) scale(1.04,1)" font-family="Liberation Serif" font-size="8.3" fill="#1a1a1a" stroke="#1a1a1a" stroke-width="0.2" text-anchor="middle">300</text>
<line x1="130.5" y1="170.7" x2="130.5" y2="173.7" stroke="#1e1e1e" stroke-width="1.10" />
<text transform="translate(130.5,183.0) scale(1.04,1)" font-family="Liberation Serif" font-size="8.3" fill="#1a1a1a" stroke="#1a1a1a" stroke-width="0.2" text-anchor="middle">400</text>
<line x1="151.6" y1="170.7" x2="151.6" y2="173.7" stroke="#1e1e1e" stroke-width="1.10" />
<text transform="translate(151.6,183.0) scale(1.04,1)" font-family="Liberation Serif" font-size="8.3" fill="#1a1a1a" stroke="#1a1a1a" stroke-width="0.2" text-anchor="middle">500</text>
<line x1="172.7" y1="170.7" x2="172.7" y2="173.7" stroke="#1e1e1e" stroke-width="1.10" />
<text transform="translate(172.7,183.0) scale(1.04,1)" font-family="Liberation Serif" font-size="8.3" fill="#1a1a1a" stroke="#1a1a1a" stroke-width="0.2" text-anchor="middle">600</text>
<line x1="193.8" y1="170.7" x2="193.8" y2="173.7" stroke="#1e1e1e" stroke-width="1.10" />
<text transform="translate(193.8,183.0) scale(1.04,1)" font-family="Liberation Serif" font-size="8.3" fill="#1a1a1a" stroke="#1a1a1a" stroke-width="0.2" text-anchor="middle">700</text>
<line x1="214.9" y1="170.7" x2="214.9" y2="173.7" stroke="#1e1e1e" stroke-width="1.10" />
<text transform="translate(214.9,183.0) scale(1.04,1)" font-family="Liberation Serif" font-size="8.3" fill="#1a1a1a" stroke="#1a1a1a" stroke-width="0.2" text-anchor="middle">800</text>
<line x1="236.0" y1="170.7" x2="236.0" y2="173.7" stroke="#1e1e1e" stroke-width="1.10" />
<text transform="translate(236.0,183.0) scale(1.04,1)" font-family="Liberation Serif" font-size="8.3" fill="#1a1a1a" stroke="#1a1a1a" stroke-width="0.2" text-anchor="middle">900</text>
<line x1="56.7" y1="170.7" x2="56.7" y2="172.5" stroke="#1e1e1e" stroke-width="1.00" />
<line x1="77.8" y1="170.7" x2="77.8" y2="172.5" stroke="#1e1e1e" stroke-width="1.00" />
<line x1="98.8" y1="170.7" x2="98.8" y2="172.5" stroke="#1e1e1e" stroke-width="1.00" />
<line x1="120.0" y1="170.7" x2="120.0" y2="172.5" stroke="#1e1e1e" stroke-width="1.00" />
<line x1="141.1" y1="170.7" x2="141.1" y2="172.5" stroke="#1e1e1e" stroke-width="1.00" />
<line x1="162.2" y1="170.7" x2="162.2" y2="172.5" stroke="#1e1e1e" stroke-width="1.00" />
<line x1="183.2" y1="170.7" x2="183.2" y2="172.5" stroke="#1e1e1e" stroke-width="1.00" />
<line x1="204.4" y1="170.7" x2="204.4" y2="172.5" stroke="#1e1e1e" stroke-width="1.00" />
<line x1="225.4" y1="170.7" x2="225.4" y2="172.5" stroke="#1e1e1e" stroke-width="1.00" />
<line x1="236.6" y1="23.0" x2="239.6" y2="23.0" stroke="#e8242c" stroke-width="1.10" />
<text transform="translate(241.6,25.6) scale(1.04,1)" font-family="Liberation Serif" font-size="8.3" fill="#e8242c" stroke="#e8242c" stroke-width="0.2" text-anchor="start">0.1</text>
<line x1="236.6" y1="31.2" x2="238.4" y2="31.2" stroke="#e8242c" stroke-width="1.00" />
<line x1="236.6" y1="39.4" x2="239.6" y2="39.4" stroke="#e8242c" stroke-width="1.10" />
<text transform="translate(241.6,42.0) scale(1.04,1)" font-family="Liberation Serif" font-size="8.3" fill="#e8242c" stroke="#e8242c" stroke-width="0.2" text-anchor="start">0.0</text>
<line x1="236.6" y1="47.6" x2="238.4" y2="47.6" stroke="#e8242c" stroke-width="1.00" />
<line x1="236.6" y1="55.8" x2="239.6" y2="55.8" stroke="#e8242c" stroke-width="1.10" />
<text transform="translate(241.6,58.4) scale(1.04,1)" font-family="Liberation Serif" font-size="8.3" fill="#e8242c" stroke="#e8242c" stroke-width="0.2" text-anchor="start">-0.1</text>
<line x1="236.6" y1="64.0" x2="238.4" y2="64.0" stroke="#e8242c" stroke-width="1.00" />
<line x1="236.6" y1="72.2" x2="239.6" y2="72.2" stroke="#e8242c" stroke-width="1.10" />
<text transform="translate(241.6,74.8) scale(1.04,1)" font-family="Liberation Serif" font-size="8.3" fill="#e8242c" stroke="#e8242c" stroke-width="0.2" text-anchor="start">-0.2</text>
<line x1="236.6" y1="80.4" x2="238.4" y2="80.4" stroke="#e8242c" stroke-width="1.00" />
<line x1="236.6" y1="88.6" x2="239.6" y2="88.6" stroke="#e8242c" stroke-width="1.10" />
<text transform="translate(241.6,91.2) scale(1.04,1)" font-family="Liberation Serif" font-size="8.3" fill="#e8242c" stroke="#e8242c" stroke-width="0.2" text-anchor="start">-0.3</text>
<line x1="236.6" y1="96.9" x2="238.4" y2="96.9" stroke="#e8242c" stroke-width="1.00" />
<line x1="236.6" y1="105.1" x2="239.6" y2="105.1" stroke="#e8242c" stroke-width="1.10" />
<text transform="translate(241.6,107.7) scale(1.04,1)" font-family="Liberation Serif" font-size="8.3" fill="#e8242c" stroke="#e8242c" stroke-width="0.2" text-anchor="start">-0.4</text>
<line x1="236.6" y1="113.3" x2="238.4" y2="113.3" stroke="#e8242c" stroke-width="1.00" />
<line x1="236.6" y1="121.5" x2="239.6" y2="121.5" stroke="#e8242c" stroke-width="1.10" />
<text transform="translate(241.6,124.1) scale(1.04,1)" font-family="Liberation Serif" font-size="8.3" fill="#e8242c" stroke="#e8242c" stroke-width="0.2" text-anchor="start">-0.5</text>
<line x1="236.6" y1="129.7" x2="238.4" y2="129.7" stroke="#e8242c" stroke-width="1.00" />
<line x1="236.6" y1="137.9" x2="239.6" y2="137.9" stroke="#e8242c" stroke-width="1.10" />
<text transform="translate(241.6,140.5) scale(1.04,1)" font-family="Liberation Serif" font-size="8.3" fill="#e8242c" stroke="#e8242c" stroke-width="0.2" text-anchor="start">-0.6</text>
<line x1="236.6" y1="146.1" x2="238.4" y2="146.1" stroke="#e8242c" stroke-width="1.00" />
<line x1="236.6" y1="154.3" x2="239.6" y2="154.3" stroke="#e8242c" stroke-width="1.10" />
<text transform="translate(241.6,156.9) scale(1.04,1)" font-family="Liberation Serif" font-size="8.3" fill="#e8242c" stroke="#e8242c" stroke-width="0.2" text-anchor="start">-0.7</text>
<line x1="236.6" y1="162.5" x2="238.4" y2="162.5" stroke="#e8242c" stroke-width="1.00" />
<line x1="236.6" y1="170.7" x2="239.6" y2="170.7" stroke="#e8242c" stroke-width="1.10" />
<text transform="translate(241.6,173.3) scale(1.04,1)" font-family="Liberation Serif" font-size="8.3" fill="#e8242c" stroke="#e8242c" stroke-width="0.2" text-anchor="start">-0.8</text>
<text x="148.6" y="194.0" font-family="Liberation Serif" font-size="9.0" fill="#1a1a1a" stroke="#1a1a1a" stroke-width="0.14" text-anchor="middle" >Temperature(&#176;C)</text>
<text x="0.0" y="0.0" font-family="Liberation Serif" font-size="9.2" fill="#1a1a1a" stroke="#1a1a1a" stroke-width="0.14" text-anchor="middle" transform="translate(33.2,92) rotate(-90)">Mass loss(%)</text>
<text x="0.0" y="0.0" font-family="Liberation Serif" font-size="9.9" fill="#e8242c" stroke="#e8242c" stroke-width="0.15" text-anchor="middle" transform="translate(268.5,88) rotate(-90)">DTG(mg&#183;cm<tspan font-size="6.8" dy="-3.6">&#8722;1</tspan><tspan dy="3.6">)</tspan></text>
<text x="64.7" y="35.3" font-family="Liberation Serif" font-size="9.2" fill="#2a2a2a" stroke="#2a2a2a" stroke-width="0.05" text-anchor="middle" >I</text>
<text x="88.2" y="35.3" font-family="Liberation Serif" font-size="9.2" fill="#2a2a2a" stroke="#2a2a2a" stroke-width="0.05" text-anchor="middle" >II</text>
<text x="148.4" y="35.3" font-family="Liberation Serif" font-size="9.2" fill="#2a2a2a" stroke="#2a2a2a" stroke-width="0.05" text-anchor="middle" >III</text>
<text x="218.8" y="35.3" font-family="Liberation Serif" font-size="9.2" fill="#2a2a2a" stroke="#2a2a2a" stroke-width="0.05" text-anchor="middle" >IV</text>
<text x="212.7" y="77.0" font-family="Liberation Serif" font-size="8.7" fill="#1a1a1a" stroke="#1a1a1a" stroke-width="0.14" text-anchor="middle" >Carbonate</text>
<line x1="318.0" y1="7.6" x2="333.0" y2="7.6" stroke="#505050" stroke-width="1.00" stroke-opacity="0.85"/>
<text x="334.8" y="10.2" font-family="Liberation Serif" font-size="7.2" fill="#1a1a1a" stroke="#1a1a1a" stroke-width="0.14" text-anchor="start" >GPC-D0</text>
<line x1="367.0" y1="7.6" x2="382.0" y2="7.6" stroke="#d03038" stroke-width="1.00" stroke-opacity="0.85"/>
<text x="383.8" y="10.2" font-family="Liberation Serif" font-size="7.2" fill="#1a1a1a" stroke="#1a1a1a" stroke-width="0.14" text-anchor="start" >GPC-D0.5</text>
<line x1="417.0" y1="7.6" x2="432.0" y2="7.6" stroke="#3858a8" stroke-width="1.00" stroke-opacity="0.85"/>
<text x="433.8" y="10.2" font-family="Liberation Serif" font-size="7.2" fill="#1a1a1a" stroke="#1a1a1a" stroke-width="0.14" text-anchor="start" >GPC-D0.8</text>
<line x1="465.0" y1="7.6" x2="480.0" y2="7.6" stroke="#3a9040" stroke-width="1.00" stroke-opacity="0.85"/>
<text x="481.8" y="10.2" font-family="Liberation Serif" font-size="7.2" fill="#1a1a1a" stroke="#1a1a1a" stroke-width="0.14" text-anchor="start" >GPC-D1.1</text>
<line x1="318.0" y1="15.6" x2="333.0" y2="15.6" stroke="#f0c030" stroke-width="1.00" stroke-opacity="0.85"/>
<text x="334.8" y="18.2" font-family="Liberation Serif" font-size="7.2" fill="#1a1a1a" stroke="#1a1a1a" stroke-width="0.14" text-anchor="start" >GPC-D1.4</text>
<line x1="367.0" y1="15.6" x2="382.0" y2="15.6" stroke="#c8a8e8" stroke-width="1.00" stroke-opacity="0.85"/>
<text x="383.8" y="18.2" font-family="Liberation Serif" font-size="7.2" fill="#1a1a1a" stroke="#1a1a1a" stroke-width="0.14" text-anchor="start" >GPC-D1.7</text>
<line x1="417.0" y1="15.6" x2="432.0" y2="15.6" stroke="#30e0e8" stroke-width="1.00" stroke-opacity="0.85"/>
<text x="433.8" y="18.2" font-family="Liberation Serif" font-size="7.2" fill="#1a1a1a" stroke="#1a1a1a" stroke-width="0.14" text-anchor="start" >GPC-D2.0</text>
<text x="282.3" y="21.5" font-family="Liberation Serif" font-size="21.0" fill="#111" stroke="#111" stroke-width="0.30" text-anchor="start" >(a</text>
<text x="298.2" y="21.4" font-family="Liberation Serif" font-size="9.8" fill="#111" stroke="#111" stroke-width="0.35" text-anchor="start" >2</text>
<text x="303.6" y="21.5" font-family="Liberation Serif" font-size="21.0" fill="#111" stroke="#111" stroke-width="0.30" text-anchor="start" >)</text>
<clipPath id="cpa2"><rect x="320.5" y="23.2" width="174.6" height="147.6"/></clipPath>
<g clip-path="url(#cpa2)">
<path d="M318.0,14.3 L320.0,16.7 L322.0,18.9 L324.0,21.2 L326.0,23.4 L328.0,25.6 L330.0,27.7 L332.0,29.7 L334.0,31.8 L336.0,33.7 L338.0,35.6 L340.0,37.5 L342.0,39.3 L344.0,41.0 L346.0,42.7 L348.0,44.2 L350.0,45.7 L352.0,47.2 L354.0,48.5 L356.0,49.8 L358.0,50.9 L360.0,52.0 L362.0,53.0 L364.0,53.9 L366.0,54.7 L368.0,55.4 L370.0,56.1 L372.0,56.6 L374.0,57.1 L376.0,57.5 L378.0,57.8 L380.0,58.1 L382.0,58.2 L384.0,58.3 L386.0,58.3 L388.0,58.3 L390.0,58.2 L392.0,58.0 L394.0,57.8 L396.0,57.5 L398.0,57.1 L400.0,56.7 L402.0,56.2 L404.0,55.7 L406.0,55.1 L408.0,54.5 L410.0,53.8 L412.0,53.1 L414.0,52.3 L416.0,51.5 L418.0,50.6 L420.0,49.7 L422.0,48.8 L424.0,47.9 L426.0,46.9 L428.0,45.9 L430.0,44.8 L432.0,43.7 L434.0,42.6 L436.0,41.5 L438.0,40.4 L440.0,39.2 L442.0,38.0 L444.0,36.9 L446.0,35.7 L448.0,34.4 L450.0,33.2 L452.0,32.0 L454.0,30.8 L456.0,29.6 L458.0,28.3 L460.0,27.1 L462.0,25.9 L464.0,24.7 L466.0,23.5 L468.0,22.3 L470.0,21.1 L472.0,19.9 L474.0,18.8 L476.0,17.6" fill="none" stroke="#505050" stroke-width="1.3" stroke-linejoin="round"/>
<path d="M320.5,44.5 L322.5,46.8 L324.5,49.1 L326.5,51.4 L328.5,53.8 L330.5,56.2 L332.5,58.6 L334.5,61.0 L336.5,63.4 L338.5,65.8 L340.5,68.1 L342.5,70.5 L344.5,72.8 L346.5,75.0 L348.5,77.2 L350.5,79.3 L352.5,81.3 L354.5,83.3 L356.5,85.2 L358.5,86.9 L360.5,88.6 L362.5,90.1 L364.5,91.6 L366.5,92.8 L368.5,94.0 L370.5,95.0 L372.5,95.8 L374.5,96.4 L376.5,96.9 L378.5,97.3 L380.5,97.5 L382.5,97.5 L384.5,97.5 L386.5,97.3 L388.5,96.9 L390.5,96.5 L392.5,96.0 L394.5,95.3 L396.5,94.6 L398.5,93.8 L400.5,92.8 L402.5,91.9 L404.5,90.8 L406.5,89.7 L408.5,88.5 L410.5,87.3 L412.5,86.0 L414.5,84.7 L416.5,83.3 L418.5,81.9 L420.5,80.5 L422.5,79.0 L424.5,77.6 L426.5,76.1 L428.5,74.6 L430.5,73.1 L432.5,71.6 L434.5,70.2 L436.5,68.7 L438.5,67.3 L440.5,65.8 L442.5,64.4 L444.5,63.0 L446.5,61.7 L448.5,60.3 L450.5,58.9 L452.5,57.6 L454.5,56.3 L456.5,54.9 L458.5,53.6 L460.5,52.3 L462.5,51.1 L464.5,49.8 L466.5,48.5 L468.5,47.3 L470.5,46.1 L472.5,44.8 L474.5,43.6 L476.5,42.4 L478.5,41.2 L480.5,40.1 L482.5,38.9 L484.5,37.7 L486.5,36.6 L488.5,35.4 L490.5,34.3 L492.5,33.2 L494.5,32.1" fill="none" stroke="#d03038" stroke-width="1.3" stroke-linejoin="round"/>
<path d="M320.5,35.7 L322.5,37.7 L324.5,39.7 L326.5,41.9 L328.5,44.3 L330.5,46.7 L332.5,49.3 L334.5,51.9 L336.5,54.6 L338.5,57.3 L340.5,60.1 L342.5,63.0 L344.5,65.8 L346.5,68.6 L348.5,71.4 L350.5,74.2 L352.5,77.0 L354.5,79.7 L356.5,82.3 L358.5,84.8 L360.5,87.3 L362.5,89.6 L364.5,91.8 L366.5,93.9 L368.5,95.8 L370.5,97.5 L372.5,99.1 L374.5,100.5 L376.5,101.7 L378.5,102.7 L380.5,103.6 L382.5,104.2 L384.5,104.7 L386.5,105.0 L388.5,105.1 L390.5,105.1 L392.5,104.9 L394.5,104.6 L396.5,104.1 L398.5,103.6 L400.5,103.0 L402.5,102.3 L404.5,101.5 L406.5,100.7 L408.5,99.9 L410.5,98.9 L412.5,98.0 L414.5,96.9 L416.5,95.8 L418.5,94.7 L420.5,93.5 L422.5,92.3 L424.5,91.1 L426.5,89.8 L428.5,88.4 L430.5,87.1 L432.5,85.7 L434.5,84.2 L436.5,82.8 L438.5,81.3 L440.5,79.8 L442.5,78.3 L444.5,76.8 L446.5,75.2 L448.5,73.7 L450.5,72.1 L452.5,70.5 L454.5,68.9 L456.5,67.4 L458.5,65.8 L460.5,64.2 L462.5,62.6 L464.5,61.1 L466.5,59.5 L468.5,58.0 L470.5,56.5 L472.5,54.9 L474.5,53.4 L476.5,52.0 L478.5,50.5 L480.5,49.1 L482.5,47.7 L484.5,46.4 L486.5,45.1 L488.5,43.8 L490.5,42.5 L492.5,41.3 L494.5,40.1" fill="none" stroke="#3858a8" stroke-width="1.3" stroke-linejoin="round"/>
<path d="M320.5,48.1 L322.5,52.1 L324.5,56.1 L326.5,60.0 L328.5,63.7 L330.5,67.4 L332.5,71.0 L334.5,74.5 L336.5,77.9 L338.5,81.2 L340.5,84.4 L342.5,87.6 L344.5,90.6 L346.5,93.5 L348.5,96.3 L350.5,99.0 L352.5,101.6 L354.5,104.1 L356.5,106.5 L358.5,108.8 L360.5,111.0 L362.5,113.0 L364.5,115.0 L366.5,116.9 L368.5,118.6 L370.5,120.2 L372.5,121.7 L374.5,123.1 L376.5,124.4 L378.5,125.6 L380.5,126.6 L382.5,127.5 L384.5,128.3 L386.5,129.0 L388.5,129.6 L390.5,130.0 L392.5,130.3 L394.5,130.5 L396.5,130.6 L398.5,130.5 L400.5,130.3 L402.5,130.0 L404.5,129.6 L406.5,129.1 L408.5,128.5 L410.5,127.8 L412.5,127.0 L414.5,126.1 L416.5,125.1 L418.5,124.0 L420.5,122.8 L422.5,121.6 L424.5,120.3 L426.5,118.9 L428.5,117.5 L430.5,116.0 L432.5,114.4 L434.5,112.8 L436.5,111.1 L438.5,109.4 L440.5,107.7 L442.5,105.9 L444.5,104.0 L446.5,102.2 L448.5,100.3 L450.5,98.4 L452.5,96.5 L454.5,94.5 L456.5,92.6 L458.5,90.6 L460.5,88.6 L462.5,86.7 L464.5,84.7 L466.5,82.7 L468.5,80.8 L470.5,78.9 L472.5,77.0 L474.5,75.1 L476.5,73.2 L478.5,71.4 L480.5,69.6 L482.5,67.8 L484.5,66.1 L486.5,64.4 L488.5,62.8 L490.5,61.2 L492.5,59.6 L494.5,58.2" fill="none" stroke="#f0c030" stroke-width="1.3" stroke-linejoin="round"/>
<path d="M320.5,46.4 L322.5,50.5 L324.5,54.5 L326.5,58.5 L328.5,62.5 L330.5,66.3 L332.5,70.1 L334.5,73.8 L336.5,77.5 L338.5,81.0 L340.5,84.5 L342.5,87.8 L344.5,91.0 L346.5,94.1 L348.5,97.1 L350.5,100.0 L352.5,102.8 L354.5,105.4 L356.5,107.8 L358.5,110.1 L360.5,112.3 L362.5,114.3 L364.5,116.1 L366.5,117.8 L368.5,119.2 L370.5,120.5 L372.5,121.6 L374.5,122.6 L376.5,123.3 L378.5,123.9 L380.5,124.4 L382.5,124.6 L384.5,124.8 L386.5,124.8 L388.5,124.7 L390.5,124.4 L392.5,124.1 L394.5,123.6 L396.5,123.0 L398.5,122.3 L400.5,121.6 L402.5,120.7 L404.5,119.8 L406.5,118.8 L408.5,117.7 L410.5,116.6 L412.5,115.4 L414.5,114.1 L416.5,112.8 L418.5,111.4 L420.5,110.0 L422.5,108.6 L424.5,107.1 L426.5,105.5 L428.5,103.9 L430.5,102.3 L432.5,100.7 L434.5,99.0 L436.5,97.4 L438.5,95.6 L440.5,93.9 L442.5,92.2 L444.5,90.5 L446.5,88.7 L448.5,87.0 L450.5,85.2 L452.5,83.4 L454.5,81.7 L456.5,79.9 L458.5,78.2 L460.5,76.4 L462.5,74.7 L464.5,72.9 L466.5,71.2 L468.5,69.5 L470.5,67.7 L472.5,66.0 L474.5,64.3 L476.5,62.6 L478.5,60.9 L480.5,59.3 L482.5,57.6 L484.5,56.0 L486.5,54.3 L488.5,52.7 L490.5,51.1 L492.5,49.5 L494.5,48.0" fill="none" stroke="#c8a8e8" stroke-width="1.3" stroke-linejoin="round"/>
<path d="M320.5,50.0 L322.5,53.4 L324.5,56.9 L326.5,60.4 L328.5,64.0 L330.5,67.6 L332.5,71.1 L334.5,74.7 L336.5,78.2 L338.5,81.7 L340.5,85.1 L342.5,88.5 L344.5,91.8 L346.5,95.0 L348.5,98.1 L350.5,101.1 L352.5,104.0 L354.5,106.7 L356.5,109.3 L358.5,111.8 L360.5,114.0 L362.5,116.1 L364.5,118.1 L366.5,119.9 L368.5,121.6 L370.5,123.1 L372.5,124.5 L374.5,125.8 L376.5,127.1 L378.5,128.2 L380.5,129.3 L382.5,130.3 L384.5,131.3 L386.5,132.2 L388.5,132.9 L390.5,133.6 L392.5,134.2 L394.5,134.8 L396.5,135.2 L398.5,135.5 L400.5,135.7 L402.5,135.7 L404.5,135.7 L406.5,135.5 L408.5,135.2 L410.5,134.7 L412.5,134.2 L414.5,133.4 L416.5,132.5 L418.5,131.5 L420.5,130.3 L422.5,128.9 L424.5,127.4 L426.5,125.7 L428.5,123.8 L430.5,121.7 L432.5,119.6 L434.5,117.2 L436.5,114.8 L438.5,112.2 L440.5,109.5 L442.5,106.8 L444.5,103.9 L446.5,101.0 L448.5,98.0 L450.5,94.9 L452.5,91.8 L454.5,88.6 L456.5,85.5 L458.5,82.3 L460.5,79.1 L462.5,75.8 L464.5,72.6 L466.5,69.4 L468.5,66.1 L470.5,63.0 L472.5,59.8 L474.5,56.8 L476.5,53.8 L478.5,51.0 L480.5,48.3 L482.5,45.7 L484.5,43.4 L486.5,41.2 L488.5,39.2 L490.5,37.5 L492.5,36.0 L494.5,34.8" fill="none" stroke="#3a9040" stroke-width="1.3" stroke-linejoin="round"/>
<path d="M320.5,86.9 L322.5,89.5 L324.5,92.2 L326.5,95.0 L328.5,97.7 L330.5,100.6 L332.5,103.4 L334.5,106.3 L336.5,109.1 L338.5,111.9 L340.5,114.7 L342.5,117.4 L344.5,120.0 L346.5,122.6 L348.5,125.1 L350.5,127.4 L352.5,129.6 L354.5,131.7 L356.5,133.7 L358.5,135.4 L360.5,137.0 L362.5,138.4 L364.5,139.5 L366.5,140.5 L368.5,141.2 L370.5,141.8 L372.5,142.1 L374.5,142.2 L376.5,142.0 L378.5,141.7 L380.5,141.1 L382.5,140.4 L384.5,139.5 L386.5,138.5 L388.5,137.2 L390.5,135.9 L392.5,134.4 L394.5,132.8 L396.5,131.2 L398.5,129.4 L400.5,127.6 L402.5,125.7 L404.5,123.7 L406.5,121.8 L408.5,119.7 L410.5,117.7 L412.5,115.6 L414.5,113.5 L416.5,111.4 L418.5,109.3 L420.5,107.1 L422.5,104.9 L424.5,102.7 L426.5,100.5 L428.5,98.3 L430.5,96.1 L432.5,93.8 L434.5,91.5 L436.5,89.3 L438.5,87.0 L440.5,84.7 L442.5,82.4 L444.5,80.1 L446.5,77.8 L448.5,75.5 L450.5,73.2 L452.5,70.9 L454.5,68.7 L456.5,66.4 L458.5,64.1 L460.5,61.9 L462.5,59.7 L464.5,57.5 L466.5,55.4 L468.5,53.3 L470.5,51.2 L472.5,49.2 L474.5,47.3 L476.5,45.5 L478.5,43.7 L480.5,42.0 L482.5,40.4 L484.5,38.9 L486.5,37.5 L488.5,36.2 L490.5,35.0 L492.5,33.9 L494.5,33.0" fill="none" stroke="#30e0e8" stroke-width="1.3" stroke-linejoin="round"/>
</g>
<line x1="381.5" y1="23.2" x2="381.5" y2="170.8" stroke="#4a90d8" stroke-width="2.00" stroke-dasharray="9.5,8" stroke-dashoffset="14.8"/>
<line x1="392.4" y1="126.3" x2="437.5" y2="119.1" stroke="#111" stroke-width="1.10" />
<polygon points="437.5,119.1 432.9,122.3 432.2,117.5" fill="#111"/>
<line x1="404.4" y1="130.1" x2="425.7" y2="129.5" stroke="#111" stroke-width="1.10" />
<polygon points="425.7,129.5 420.8,132.0 420.6,127.2" fill="#111"/>
<text x="382.5" y="69.1" font-family="Liberation Serif" font-size="8.2" fill="#1a1a1a" stroke="#1a1a1a" stroke-width="0.20" text-anchor="start" font-weight="bold">73.42&#176;C</text>
<text x="383.0" y="91.6" font-family="Liberation Serif" font-size="8.2" fill="#1a1a1a" stroke="#1a1a1a" stroke-width="0.20" text-anchor="start" font-weight="bold">73.61&#176;C</text>
<text x="382.5" y="116.8" font-family="Liberation Serif" font-size="8.2" fill="#1a1a1a" stroke="#1a1a1a" stroke-width="0.20" text-anchor="start" font-weight="bold">74.27&#176;C</text>
<text x="439.5" y="120.1" font-family="Liberation Serif" font-size="8.2" fill="#1a1a1a" stroke="#1a1a1a" stroke-width="0.20" text-anchor="start" font-weight="bold">77.19&#176;C</text>
<text x="432.0" y="134.5" font-family="Liberation Serif" font-size="8.2" fill="#1a1a1a" stroke="#1a1a1a" stroke-width="0.20" text-anchor="start" font-weight="bold">79.09&#176;C</text>
<text x="396.5" y="145.5" font-family="Liberation Serif" font-size="8.2" fill="#1a1a1a" stroke="#1a1a1a" stroke-width="0.20" text-anchor="start" font-weight="bold">80.53&#176;C</text>
<text x="353.5" y="153.8" font-family="Liberation Serif" font-size="8.2" fill="#1a1a1a" stroke="#1a1a1a" stroke-width="0.20" text-anchor="start" font-weight="bold">67.39&#176;C</text>
<line x1="320.5" y1="23.2" x2="495.1" y2="23.2" stroke="#1e1e1e" stroke-width="1.40" />
<line x1="320.5" y1="170.8" x2="495.1" y2="170.8" stroke="#1e1e1e" stroke-width="1.40" />
<line x1="320.5" y1="23.2" x2="320.5" y2="170.8" stroke="#1e1e1e" stroke-width="1.40" />
<line x1="495.1" y1="23.2" x2="495.1" y2="170.8" stroke="#e8242c" stroke-width="1.40" />
<line x1="320.5" y1="170.8" x2="320.5" y2="173.8" stroke="#1e1e1e" stroke-width="1.10" />
<text transform="translate(320.5,184.3) scale(1.04,1)" font-family="Liberation Serif" font-size="8.3" fill="#1a1a1a" stroke="#1a1a1a" stroke-width="0.2" text-anchor="middle">45</text>
<line x1="338.0" y1="170.8" x2="338.0" y2="172.6" stroke="#1e1e1e" stroke-width="1.00" />
<line x1="355.4" y1="170.8" x2="355.4" y2="173.8" stroke="#1e1e1e" stroke-width="1.10" />
<text transform="translate(355.4,184.3) scale(1.04,1)" font-family="Liberation Serif" font-size="8.3" fill="#1a1a1a" stroke="#1a1a1a" stroke-width="0.2" text-anchor="middle">60</text>
<line x1="372.9" y1="170.8" x2="372.9" y2="172.6" stroke="#1e1e1e" stroke-width="1.00" />
<line x1="390.3" y1="170.8" x2="390.3" y2="173.8" stroke="#1e1e1e" stroke-width="1.10" />
<text transform="translate(390.3,184.3) scale(1.04,1)" font-family="Liberation Serif" font-size="8.3" fill="#1a1a1a" stroke="#1a1a1a" stroke-width="0.2" text-anchor="middle">75</text>
<line x1="407.8" y1="170.8" x2="407.8" y2="172.6" stroke="#1e1e1e" stroke-width="1.00" />
<line x1="425.3" y1="170.8" x2="425.3" y2="173.8" stroke="#1e1e1e" stroke-width="1.10" />
<text transform="translate(425.3,184.3) scale(1.04,1)" font-family="Liberation Serif" font-size="8.3" fill="#1a1a1a" stroke="#1a1a1a" stroke-width="0.2" text-anchor="middle">90</text>
<line x1="442.7" y1="170.8" x2="442.7" y2="172.6" stroke="#1e1e1e" stroke-width="1.00" />
<line x1="460.2" y1="170.8" x2="460.2" y2="173.8" stroke="#1e1e1e" stroke-width="1.10" />
<text transform="translate(460.2,184.3) scale(1.04,1)" font-family="Liberation Serif" font-size="8.3" fill="#1a1a1a" stroke="#1a1a1a" stroke-width="0.2" text-anchor="middle">105</text>
<line x1="477.6" y1="170.8" x2="477.6" y2="172.6" stroke="#1e1e1e" stroke-width="1.00" />
<line x1="495.1" y1="170.8" x2="495.1" y2="173.8" stroke="#1e1e1e" stroke-width="1.10" />
<text transform="translate(495.1,184.3) scale(1.04,1)" font-family="Liberation Serif" font-size="8.3" fill="#1a1a1a" stroke="#1a1a1a" stroke-width="0.2" text-anchor="middle">120</text>
<line x1="495.1" y1="23.2" x2="498.1" y2="23.2" stroke="#e8242c" stroke-width="1.10" />
<text transform="translate(500.1,25.8) scale(1.04,1)" font-family="Liberation Serif" font-size="8.3" fill="#e8242c" stroke="#e8242c" stroke-width="0.2" text-anchor="start">-0.2</text>
<line x1="495.1" y1="38.0" x2="496.9" y2="38.0" stroke="#e8242c" stroke-width="1.00" />
<line x1="495.1" y1="52.7" x2="498.1" y2="52.7" stroke="#e8242c" stroke-width="1.10" />
<text transform="translate(500.1,55.3) scale(1.04,1)" font-family="Liberation Serif" font-size="8.3" fill="#e8242c" stroke="#e8242c" stroke-width="0.2" text-anchor="start">-0.3</text>
<line x1="495.1" y1="67.5" x2="496.9" y2="67.5" stroke="#e8242c" stroke-width="1.00" />
<line x1="495.1" y1="82.2" x2="498.1" y2="82.2" stroke="#e8242c" stroke-width="1.10" />
<text transform="translate(500.1,84.8) scale(1.04,1)" font-family="Liberation Serif" font-size="8.3" fill="#e8242c" stroke="#e8242c" stroke-width="0.2" text-anchor="start">-0.4</text>
<line x1="495.1" y1="97.0" x2="496.9" y2="97.0" stroke="#e8242c" stroke-width="1.00" />
<line x1="495.1" y1="111.8" x2="498.1" y2="111.8" stroke="#e8242c" stroke-width="1.10" />
<text transform="translate(500.1,114.4) scale(1.04,1)" font-family="Liberation Serif" font-size="8.3" fill="#e8242c" stroke="#e8242c" stroke-width="0.2" text-anchor="start">-0.5</text>
<line x1="495.1" y1="126.5" x2="496.9" y2="126.5" stroke="#e8242c" stroke-width="1.00" />
<line x1="495.1" y1="141.3" x2="498.1" y2="141.3" stroke="#e8242c" stroke-width="1.10" />
<text transform="translate(500.1,143.9) scale(1.04,1)" font-family="Liberation Serif" font-size="8.3" fill="#e8242c" stroke="#e8242c" stroke-width="0.2" text-anchor="start">-0.6</text>
<line x1="495.1" y1="156.0" x2="496.9" y2="156.0" stroke="#e8242c" stroke-width="1.00" />
<line x1="495.1" y1="170.8" x2="498.1" y2="170.8" stroke="#e8242c" stroke-width="1.10" />
<text transform="translate(500.1,173.4) scale(1.04,1)" font-family="Liberation Serif" font-size="8.3" fill="#e8242c" stroke="#e8242c" stroke-width="0.2" text-anchor="start">-0.7</text>
<text x="417.0" y="194.0" font-family="Liberation Serif" font-size="9.0" fill="#1a1a1a" stroke="#1a1a1a" stroke-width="0.14" text-anchor="middle" >Temperature(&#176;C)</text>
<text x="0.0" y="0.0" font-family="Liberation Serif" font-size="9.9" fill="#e8242c" stroke="#e8242c" stroke-width="0.15" text-anchor="middle" transform="translate(524.5,89) rotate(-90)">DTG(mg&#183;cm<tspan font-size="6.8" dy="-3.6">&#8722;1</tspan><tspan dy="3.6">)</tspan></text>
<line x1="71.9" y1="221.8" x2="93.9" y2="221.8" stroke="#505050" stroke-width="1.20" />
<text x="97.1" y="225.0" font-family="Liberation Serif" font-size="10.0" fill="#1a1a1a" stroke="#1a1a1a" stroke-width="0.16" text-anchor="start" >1d</text>
<line x1="108.6" y1="221.8" x2="130.6" y2="221.8" stroke="#90c0e0" stroke-width="1.20" />
<text x="133.8" y="225.0" font-family="Liberation Serif" font-size="10.0" fill="#1a1a1a" stroke="#1a1a1a" stroke-width="0.16" text-anchor="start" >3d</text>
<line x1="145.2" y1="221.8" x2="167.2" y2="221.8" stroke="#60a860" stroke-width="1.20" />
<text x="170.4" y="225.0" font-family="Liberation Serif" font-size="10.0" fill="#1a1a1a" stroke="#1a1a1a" stroke-width="0.16" text-anchor="start" >7d</text>
<line x1="181.8" y1="221.8" x2="203.8" y2="221.8" stroke="#a878e0" stroke-width="1.20" />
<text x="207.0" y="225.0" font-family="Liberation Serif" font-size="10.0" fill="#1a1a1a" stroke="#1a1a1a" stroke-width="0.16" text-anchor="start" >28d</text>
<text x="3.6" y="234.6" font-family="Liberation Serif" font-size="21.0" fill="#111" stroke="#111" stroke-width="0.30" text-anchor="start" >(b)</text>
<path d="M53.5,237.9 C54.4,239.6 57.1,244.3 59.0,248.0 C60.9,251.7 62.7,256.1 65.0,260.0 C67.3,263.9 70.7,269.1 72.9,271.5 C75.1,273.9 75.2,272.9 78.0,274.5 C80.8,276.1 85.4,278.4 89.8,281.1 C94.2,283.8 99.6,288.1 104.5,290.7 C109.4,293.3 114.2,295.1 119.3,296.6 C124.4,298.1 129.9,298.6 135.0,299.6 C140.1,300.6 144.9,301.5 149.8,302.6 C154.7,303.7 159.6,305.1 164.5,306.2 C169.4,307.3 174.2,308.2 179.3,309.2 C184.4,310.2 191.4,311.4 195.0,312.2 C198.6,313.0 198.9,313.1 201.0,313.8 C203.1,314.5 201.4,315.4 207.4,316.3 C213.4,317.2 232.1,318.7 237.0,319.2" fill="none" stroke="#606060" stroke-width="1.20" stroke-linejoin="round" />
<path d="M53.5,237.9 C54.4,239.6 57.1,244.2 59.0,248.0 C60.9,251.8 63.2,257.0 65.0,261.0 C66.8,265.0 68.4,268.8 70.0,272.0 C71.6,275.2 73.0,277.6 74.4,280.0 C75.9,282.4 76.1,283.9 78.7,286.2 C81.3,288.5 85.5,290.9 89.8,293.6 C94.1,296.3 99.6,299.8 104.5,302.5 C109.4,305.2 114.2,307.7 119.3,309.9 C124.4,312.1 128.7,313.1 135.0,315.8 C141.3,318.5 149.8,323.6 157.2,326.2 C164.6,328.8 173.0,329.5 179.3,331.4 C185.6,333.2 190.7,335.9 195.0,337.3 C199.3,338.7 201.0,339.2 205.1,340.0 C209.2,340.8 214.3,341.1 219.6,341.8 C224.9,342.5 234.1,343.8 237.0,344.2" fill="none" stroke="#98bcdc" stroke-width="1.20" stroke-linejoin="round" />
<path d="M53.5,237.9 C54.4,239.6 57.1,244.2 59.0,248.0 C60.9,251.8 63.2,256.8 65.0,261.0 C66.8,265.2 68.4,269.5 70.0,273.0 C71.6,276.5 73.0,279.4 74.4,282.0 C75.9,284.6 76.1,286.1 78.7,288.5 C81.3,290.9 85.5,293.8 89.8,296.6 C94.1,299.4 99.6,302.8 104.5,305.5 C109.4,308.2 114.2,310.4 119.3,312.8 C124.4,315.2 128.7,317.5 135.0,320.2 C141.3,322.9 149.8,326.6 157.2,329.1 C164.6,331.6 173.0,333.3 179.3,335.0 C185.6,336.7 190.7,338.2 195.0,339.5 C199.3,340.8 201.0,342.2 205.1,343.0 C209.2,343.8 214.3,344.0 219.6,344.5 C224.9,345.0 234.1,345.9 237.0,346.2" fill="none" stroke="#6aa86a" stroke-width="1.20" stroke-linejoin="round" />
<path d="M53.5,237.9 C54.4,239.6 57.1,244.0 59.0,248.0 C60.9,252.0 63.2,257.5 65.0,262.0 C66.8,266.5 68.4,271.2 70.0,275.0 C71.6,278.8 73.0,281.9 74.4,285.0 C75.9,288.1 76.1,290.8 78.7,293.6 C81.3,296.4 85.5,298.8 89.8,301.8 C94.1,304.8 99.6,308.3 104.5,311.4 C109.4,314.5 114.2,317.6 119.3,320.2 C124.4,322.8 128.7,323.9 135.0,326.9 C141.3,329.9 149.8,335.3 157.2,338.0 C164.6,340.7 173.1,341.8 179.3,343.2 C185.5,344.6 190.4,344.7 194.6,346.6 C198.8,348.5 200.5,352.8 204.2,354.4 C207.9,356.0 211.5,355.5 217.0,356.3 C222.5,357.1 233.7,358.7 237.0,359.2" fill="none" stroke="#a47ee0" stroke-width="1.20" stroke-linejoin="round" />
<path d="M53.8,250.0 C53.9,252.5 54.2,259.7 54.5,265.0 C54.8,270.3 54.9,275.4 55.6,281.7 C56.4,288.0 57.9,297.3 59.0,303.0 C60.1,308.7 61.1,315.6 62.2,316.1 C63.3,316.6 64.2,310.4 65.5,306.0 C66.8,301.6 68.3,294.8 70.0,290.0 C71.7,285.2 73.6,280.9 75.6,277.2 C77.6,273.5 80.5,269.7 82.0,268.0 C83.5,266.3 83.8,267.2 84.7,267.0 C85.6,266.8 86.5,266.9 87.3,266.7 C88.2,266.5 89.1,265.8 90.0,265.6 C90.9,265.4 91.8,265.4 92.7,265.4 C93.6,265.4 94.4,265.6 95.3,265.3 C96.1,265.1 97.0,264.3 97.9,264.0 C98.7,263.8 99.6,264.0 100.5,264.0 C101.3,264.0 102.2,264.2 103.0,264.0 C103.9,263.8 104.8,263.0 105.6,262.8 C106.5,262.5 107.3,262.5 108.2,262.4 C109.1,262.3 110.0,262.5 110.8,262.3 C111.7,262.1 112.6,261.5 113.5,261.2 C114.4,260.8 115.2,260.4 116.1,260.1 C117.0,259.8 117.9,259.7 118.8,259.5 C119.6,259.2 120.5,258.7 121.4,258.5 C122.3,258.3 123.1,258.4 124.0,258.2 C124.9,258.0 125.8,257.5 126.6,257.4 C127.5,257.4 128.4,258.0 129.3,257.9 C130.1,257.7 131.0,256.9 131.9,256.6 C132.8,256.3 133.5,256.4 134.5,256.3 C135.5,256.2 136.6,256.2 137.6,255.9 C138.6,255.7 139.7,255.2 140.7,254.7 C141.7,254.3 142.7,253.2 143.8,253.2 C144.9,253.2 146.0,253.8 147.1,254.5 C148.2,255.1 149.4,256.8 150.4,257.1 C151.4,257.4 152.1,256.5 153.0,256.4 C153.9,256.3 154.8,256.3 155.6,256.3 C156.5,256.4 157.4,256.7 158.3,256.5 C159.1,256.3 160.0,255.4 160.9,255.2 C161.8,255.0 162.6,255.3 163.5,255.3 C164.4,255.3 165.3,255.5 166.1,255.5 C167.0,255.4 167.9,255.1 168.8,255.1 C169.7,255.2 170.5,255.6 171.4,255.7 C172.3,255.8 173.2,255.9 174.1,255.9 C175.0,255.9 175.8,255.8 176.7,255.7 C177.6,255.5 178.5,254.9 179.4,254.9 C180.2,254.8 181.0,255.1 182.0,255.3 C183.0,255.5 184.0,255.9 185.1,256.0 C186.1,256.1 187.1,255.8 188.1,255.9 C189.2,255.9 188.9,255.2 191.2,256.3 C193.5,257.4 198.9,262.9 201.8,262.4 C204.7,261.9 206.9,254.8 208.4,253.2 C209.9,251.6 210.1,253.0 211.0,252.9 C211.9,252.9 212.8,252.8 213.6,252.8 C214.5,252.8 215.4,253.1 216.3,253.0 C217.1,252.8 218.0,252.0 218.9,251.8 C219.8,251.7 220.6,251.9 221.5,251.9 C222.4,251.9 223.2,251.5 224.1,251.6 C224.9,251.6 225.8,252.2 226.7,252.2 C227.5,252.3 228.4,252.0 229.2,251.9 C230.1,251.8 231.0,251.7 231.8,251.6 C232.7,251.6 233.6,251.7 234.4,251.7 C235.3,251.8 236.6,251.9 237.0,251.9" fill="none" stroke="#606060" stroke-width="1.20" stroke-linejoin="round" />
<path d="M53.8,262.0 C54.0,266.7 54.2,278.7 55.0,290.0 C55.8,301.3 57.2,319.8 58.5,330.0 C59.8,340.2 61.2,350.0 62.5,351.0 C63.8,352.0 65.1,343.3 66.5,336.0 C67.9,328.7 69.2,315.7 71.0,307.0 C72.8,298.3 74.7,289.8 77.0,284.0 C79.3,278.2 83.2,274.2 85.0,272.3 C86.8,270.4 86.7,272.9 87.5,272.7 C88.3,272.5 89.2,271.2 90.0,271.1 C90.8,270.9 91.7,271.7 92.5,271.7 C93.3,271.7 94.1,271.3 95.0,271.1 C95.9,270.9 96.8,270.6 97.6,270.5 C98.5,270.5 99.4,270.9 100.3,270.7 C101.2,270.5 102.0,269.6 102.9,269.4 C103.8,269.2 104.7,269.8 105.6,269.6 C106.4,269.3 107.3,268.1 108.2,268.0 C109.1,267.8 110.0,268.7 110.8,268.6 C111.7,268.5 112.6,267.6 113.5,267.3 C114.4,266.9 115.2,266.6 116.1,266.4 C117.0,266.2 117.9,266.2 118.8,266.1 C119.6,266.0 120.5,265.9 121.4,265.8 C122.3,265.7 123.3,265.6 124.2,265.2 C125.1,264.9 126.1,264.0 127.0,263.6 C127.9,263.3 128.9,263.6 129.8,263.4 C130.7,263.1 131.7,262.4 132.6,262.1 C133.5,261.8 134.5,261.7 135.4,261.4 C136.3,261.2 137.3,261.1 138.2,260.8 C139.1,260.6 140.1,260.3 141.0,260.2 C141.9,260.0 142.8,259.6 143.8,259.8 C144.8,260.0 146.0,260.6 147.1,261.2 C148.2,261.8 149.4,263.0 150.4,263.2 C151.4,263.4 152.1,262.8 153.0,262.3 C153.9,261.9 154.8,261.0 155.6,260.6 C156.5,260.2 157.4,260.3 158.3,260.0 C159.1,259.7 160.0,259.3 160.9,258.8 C161.8,258.3 162.6,257.2 163.5,257.0 C164.4,256.8 165.3,257.3 166.1,257.3 C167.0,257.3 167.9,257.3 168.8,257.1 C169.7,257.0 170.5,256.5 171.4,256.4 C172.3,256.2 173.2,256.3 174.1,256.3 C175.0,256.3 175.8,256.4 176.7,256.3 C177.6,256.2 178.5,255.8 179.4,255.6 C180.2,255.4 181.1,255.4 182.0,255.3 C182.9,255.2 183.7,255.1 184.5,255.2 C185.3,255.4 186.2,255.9 187.0,256.2 C187.8,256.4 188.7,256.5 189.5,256.6 C190.3,256.8 189.9,254.5 192.0,257.0 C194.1,259.5 199.1,272.1 201.8,271.6 C204.5,271.1 206.9,256.9 208.4,254.0 C209.9,251.1 210.1,254.6 211.0,254.4 C211.9,254.1 212.8,252.7 213.6,252.6 C214.5,252.5 215.4,253.8 216.3,253.6 C217.1,253.5 218.0,252.2 218.9,251.9 C219.8,251.7 220.6,252.0 221.5,252.0 C222.4,252.0 223.2,251.9 224.1,252.0 C224.9,252.2 225.8,252.9 226.7,252.9 C227.5,252.9 228.4,252.1 229.2,252.0 C230.1,251.9 231.0,252.4 231.8,252.3 C232.7,252.3 233.6,251.8 234.4,251.8 C235.3,251.8 236.6,252.4 237.0,252.5" fill="none" stroke="#6aa86a" stroke-width="1.20" stroke-linejoin="round" />
<path d="M53.8,262.0 C54.0,266.7 54.2,278.7 55.0,290.0 C55.8,301.3 57.2,320.0 58.5,330.0 C59.8,340.0 61.2,349.2 62.5,350.0 C63.8,350.8 65.1,342.5 66.5,335.0 C67.9,327.5 69.4,313.8 71.0,305.0 C72.6,296.2 74.2,287.7 76.0,282.0 C77.8,276.3 80.6,272.9 82.0,271.0 C83.4,269.1 83.7,270.8 84.6,270.8 C85.5,270.7 86.3,270.9 87.2,270.7 C88.1,270.6 88.9,269.9 89.8,269.7 C90.7,269.6 91.5,269.8 92.4,269.7 C93.3,269.6 94.1,269.1 95.0,269.0 C95.9,268.9 96.8,269.3 97.6,269.2 C98.5,269.1 99.4,268.4 100.3,268.2 C101.2,268.0 102.0,268.2 102.9,268.1 C103.8,268.0 104.7,267.8 105.6,267.7 C106.4,267.6 107.3,267.8 108.2,267.5 C109.1,267.2 110.0,266.2 110.8,266.0 C111.7,265.7 112.6,265.6 113.5,265.7 C114.4,265.8 115.2,266.5 116.1,266.5 C117.0,266.5 117.9,266.0 118.8,265.7 C119.6,265.5 120.5,265.3 121.4,265.0 C122.3,264.7 123.2,264.2 124.1,264.1 C125.0,264.0 126.0,264.4 126.9,264.2 C127.8,264.0 128.7,263.1 129.6,262.8 C130.5,262.5 131.4,262.6 132.3,262.5 C133.2,262.4 134.2,262.3 135.1,262.0 C136.0,261.8 136.9,261.4 137.8,261.2 C138.7,260.9 139.6,260.6 140.5,260.4 C141.4,260.3 142.4,260.5 143.3,260.4 C144.2,260.3 145.1,260.0 146.0,259.8 C146.9,259.6 147.7,259.5 148.5,259.2 C149.3,259.0 150.2,258.3 151.0,258.0 C151.8,257.8 152.7,257.9 153.5,257.8 C154.3,257.7 155.2,257.8 156.0,257.4 C156.8,257.1 157.7,255.8 158.5,255.4 C159.3,255.0 160.2,255.1 161.0,254.9 C161.8,254.8 162.6,254.7 163.5,254.5 C164.4,254.3 165.3,254.0 166.1,254.0 C167.0,254.1 167.9,254.9 168.8,255.0 C169.7,255.1 170.5,254.7 171.4,254.7 C172.3,254.7 173.2,254.9 174.1,254.9 C175.0,254.9 175.8,254.6 176.7,254.7 C177.6,254.8 178.5,255.5 179.4,255.6 C180.2,255.7 181.1,255.2 182.0,255.3 C182.9,255.4 183.7,256.0 184.5,256.1 C185.3,256.2 186.2,255.9 187.0,256.1 C187.8,256.2 188.7,256.9 189.5,257.0 C190.3,257.2 189.9,253.7 192.0,257.0 C194.1,260.3 199.1,277.3 201.8,276.9 C204.5,276.5 206.9,258.3 208.4,254.5 C209.9,250.7 210.1,254.1 211.0,253.9 C211.9,253.7 212.8,253.2 213.6,253.1 C214.5,253.1 215.4,253.8 216.3,253.7 C217.1,253.6 218.0,252.8 218.9,252.5 C219.8,252.2 220.6,252.2 221.5,252.0 C222.4,251.8 223.2,251.2 224.1,251.3 C224.9,251.3 225.8,252.5 226.7,252.4 C227.5,252.4 228.4,251.4 229.2,251.2 C230.1,251.1 231.0,251.5 231.8,251.5 C232.7,251.5 233.6,251.1 234.4,251.2 C235.3,251.3 236.6,251.9 237.0,252.0" fill="none" stroke="#98bcdc" stroke-width="1.20" stroke-linejoin="round" />
<path d="M53.8,262.0 C53.9,265.7 53.5,272.6 54.4,284.0 C55.2,295.4 57.4,319.0 58.9,330.6 C60.4,342.2 61.8,353.9 63.3,353.9 C64.8,353.9 66.3,339.3 67.8,330.6 C69.3,321.9 70.7,310.2 72.2,301.7 C73.7,293.2 75.1,285.3 76.7,279.4 C78.3,273.4 80.7,268.1 82.0,266.0 C83.3,263.9 83.7,266.7 84.6,266.7 C85.5,266.6 86.3,265.7 87.2,265.7 C88.1,265.6 88.9,266.2 89.8,266.3 C90.7,266.4 91.5,266.3 92.4,266.3 C93.3,266.3 94.1,266.3 95.0,266.4 C95.9,266.5 96.8,266.9 97.6,266.8 C98.5,266.7 99.4,265.9 100.3,265.7 C101.2,265.5 102.0,265.6 102.9,265.5 C103.8,265.5 104.7,265.5 105.6,265.4 C106.4,265.3 107.3,264.9 108.2,264.9 C109.1,264.9 110.0,265.3 110.8,265.4 C111.7,265.4 112.6,265.2 113.5,265.0 C114.4,264.9 115.2,264.8 116.1,264.6 C117.0,264.3 117.9,263.5 118.8,263.3 C119.6,263.2 120.5,263.5 121.4,263.7 C122.3,263.9 123.2,264.4 124.0,264.4 C124.9,264.4 125.8,263.9 126.7,263.8 C127.5,263.7 128.4,263.8 129.3,263.8 C130.2,263.8 131.0,263.8 131.9,263.8 C132.8,263.7 133.7,263.6 134.5,263.7 C135.4,263.8 136.3,264.3 137.2,264.3 C138.0,264.3 138.8,263.7 139.8,263.7 C140.8,263.7 142.0,264.1 143.1,264.4 C144.2,264.8 145.4,266.0 146.4,265.8 C147.4,265.6 148.4,264.0 149.4,263.5 C150.4,263.0 151.4,263.4 152.4,262.8 C153.3,262.3 154.3,260.7 155.3,260.0 C156.3,259.3 157.4,259.1 158.3,258.5 C159.2,257.9 160.0,257.1 160.9,256.6 C161.8,256.1 162.6,255.5 163.5,255.3 C164.4,255.1 165.3,255.1 166.1,255.2 C167.0,255.3 167.9,255.9 168.8,255.9 C169.7,255.8 170.5,255.3 171.4,255.1 C172.3,254.9 173.2,254.6 174.1,254.6 C175.0,254.6 175.8,254.9 176.7,255.0 C177.6,255.0 178.5,254.9 179.4,254.9 C180.2,255.0 181.1,255.2 182.0,255.3 C182.9,255.4 183.7,255.0 184.5,255.3 C185.3,255.6 186.2,256.8 187.0,257.2 C187.8,257.6 188.7,257.5 189.5,257.7 C190.3,257.8 189.9,254.4 192.0,258.0 C194.1,261.6 199.1,279.6 201.8,279.0 C204.5,278.4 206.9,258.7 208.4,254.5 C209.9,250.3 210.1,254.2 211.0,254.1 C211.9,254.0 212.8,254.1 213.6,253.9 C214.5,253.8 215.4,253.2 216.3,253.1 C217.1,253.1 218.0,253.8 218.9,253.7 C219.8,253.6 220.6,252.8 221.5,252.5 C222.4,252.2 223.2,251.5 224.1,251.6 C224.9,251.8 225.8,253.2 226.7,253.4 C227.5,253.6 228.4,252.9 229.2,252.9 C230.1,252.8 231.0,253.0 231.8,253.0 C232.7,253.1 233.6,253.1 234.4,253.0 C235.3,253.0 236.6,252.6 237.0,252.5" fill="none" stroke="#a47ee0" stroke-width="1.20" stroke-linejoin="round" />
<rect x="53.5" y="281.4" width="25.2" height="80.3" fill="#f08060" fill-opacity="0.55"/>
<line x1="62.3" y1="282.0" x2="62.3" y2="377.0" stroke="#c84850" stroke-width="1.30" stroke-dasharray="3.5,2.6"/>
<line x1="58.9" y1="358.9" x2="75.8" y2="358.9" stroke="#a01818" stroke-width="0.90" />
<polygon points="75.8,358.9 72.0,360.6 72.0,357.2" fill="#a01818"/>
<line x1="75.5" y1="320.4" x2="84.7" y2="329.6" stroke="#e05030" stroke-width="0.80" />
<polygon points="84.7,329.6 81.0,328.4 83.5,325.9" fill="#e05030"/>
<text x="86.4" y="341.0" font-family="Liberation Serif" font-size="8.4" fill="#e06040" stroke="#e06040" stroke-width="0.20" text-anchor="start" >C-(A)-S-H</text>
<line x1="53.5" y1="229.0" x2="237.2" y2="229.0" stroke="#1e1e1e" stroke-width="1.40" />
<line x1="53.5" y1="377.0" x2="237.2" y2="377.0" stroke="#1e1e1e" stroke-width="1.40" />
<line x1="53.5" y1="229.0" x2="53.5" y2="377.0" stroke="#1e1e1e" stroke-width="1.40" />
<line x1="237.2" y1="229.0" x2="237.2" y2="377.0" stroke="#e8242c" stroke-width="1.40" />
<line x1="50.5" y1="376.5" x2="53.5" y2="376.5" stroke="#1e1e1e" stroke-width="1.10" />
<text transform="translate(48.6,378.8) scale(1.04,1)" font-family="Liberation Serif" font-size="8.3" fill="#1a1a1a" stroke="#1a1a1a" stroke-width="0.2" text-anchor="end">91</text>
<line x1="50.5" y1="361.1" x2="53.5" y2="361.1" stroke="#1e1e1e" stroke-width="1.10" />
<text transform="translate(48.6,363.4) scale(1.04,1)" font-family="Liberation Serif" font-size="8.3" fill="#1a1a1a" stroke="#1a1a1a" stroke-width="0.2" text-anchor="end">92</text>
<line x1="50.5" y1="345.6" x2="53.5" y2="345.6" stroke="#1e1e1e" stroke-width="1.10" />
<text transform="translate(48.6,347.9) scale(1.04,1)" font-family="Liberation Serif" font-size="8.3" fill="#1a1a1a" stroke="#1a1a1a" stroke-width="0.2" text-anchor="end">93</text>
<line x1="50.5" y1="330.2" x2="53.5" y2="330.2" stroke="#1e1e1e" stroke-width="1.10" />
<text transform="translate(48.6,332.5) scale(1.04,1)" font-family="Liberation Serif" font-size="8.3" fill="#1a1a1a" stroke="#1a1a1a" stroke-width="0.2" text-anchor="end">94</text>
<line x1="50.5" y1="314.8" x2="53.5" y2="314.8" stroke="#1e1e1e" stroke-width="1.10" />
<text transform="translate(48.6,317.1) scale(1.04,1)" font-family="Liberation Serif" font-size="8.3" fill="#1a1a1a" stroke="#1a1a1a" stroke-width="0.2" text-anchor="end">95</text>
<line x1="50.5" y1="299.3" x2="53.5" y2="299.3" stroke="#1e1e1e" stroke-width="1.10" />
<text transform="translate(48.6,301.6) scale(1.04,1)" font-family="Liberation Serif" font-size="8.3" fill="#1a1a1a" stroke="#1a1a1a" stroke-width="0.2" text-anchor="end">96</text>
<line x1="50.5" y1="283.9" x2="53.5" y2="283.9" stroke="#1e1e1e" stroke-width="1.10" />
<text transform="translate(48.6,286.2) scale(1.04,1)" font-family="Liberation Serif" font-size="8.3" fill="#1a1a1a" stroke="#1a1a1a" stroke-width="0.2" text-anchor="end">97</text>
<line x1="50.5" y1="268.4" x2="53.5" y2="268.4" stroke="#1e1e1e" stroke-width="1.10" />
<text transform="translate(48.6,270.7) scale(1.04,1)" font-family="Liberation Serif" font-size="8.3" fill="#1a1a1a" stroke="#1a1a1a" stroke-width="0.2" text-anchor="end">98</text>
<line x1="50.5" y1="252.9" x2="53.5" y2="252.9" stroke="#1e1e1e" stroke-width="1.10" />
<text transform="translate(48.6,255.2) scale(1.04,1)" font-family="Liberation Serif" font-size="8.3" fill="#1a1a1a" stroke="#1a1a1a" stroke-width="0.2" text-anchor="end">99</text>
<line x1="50.5" y1="237.5" x2="53.5" y2="237.5" stroke="#1e1e1e" stroke-width="1.10" />
<text transform="translate(48.6,239.8) scale(1.04,1)" font-family="Liberation Serif" font-size="8.3" fill="#1a1a1a" stroke="#1a1a1a" stroke-width="0.2" text-anchor="end">100</text>
<line x1="51.7" y1="368.8" x2="53.5" y2="368.8" stroke="#1e1e1e" stroke-width="1.00" />
<line x1="51.7" y1="353.4" x2="53.5" y2="353.4" stroke="#1e1e1e" stroke-width="1.00" />
<line x1="51.7" y1="337.9" x2="53.5" y2="337.9" stroke="#1e1e1e" stroke-width="1.00" />
<line x1="51.7" y1="322.5" x2="53.5" y2="322.5" stroke="#1e1e1e" stroke-width="1.00" />
<line x1="51.7" y1="307.0" x2="53.5" y2="307.0" stroke="#1e1e1e" stroke-width="1.00" />
<line x1="51.7" y1="291.6" x2="53.5" y2="291.6" stroke="#1e1e1e" stroke-width="1.00" />
<line x1="51.7" y1="276.1" x2="53.5" y2="276.1" stroke="#1e1e1e" stroke-width="1.00" />
<line x1="51.7" y1="260.7" x2="53.5" y2="260.7" stroke="#1e1e1e" stroke-width="1.00" />
<line x1="51.7" y1="245.2" x2="53.5" y2="245.2" stroke="#1e1e1e" stroke-width="1.00" />
<line x1="51.7" y1="229.8" x2="53.5" y2="229.8" stroke="#1e1e1e" stroke-width="1.00" />
<line x1="67.2" y1="377.0" x2="67.2" y2="380.0" stroke="#1e1e1e" stroke-width="1.10" />
<text transform="translate(67.2,389.0) scale(1.04,1)" font-family="Liberation Serif" font-size="8.3" fill="#1a1a1a" stroke="#1a1a1a" stroke-width="0.2" text-anchor="middle">100</text>
<line x1="88.3" y1="377.0" x2="88.3" y2="380.0" stroke="#1e1e1e" stroke-width="1.10" />
<text transform="translate(88.3,389.0) scale(1.04,1)" font-family="Liberation Serif" font-size="8.3" fill="#1a1a1a" stroke="#1a1a1a" stroke-width="0.2" text-anchor="middle">200</text>
<line x1="109.4" y1="377.0" x2="109.4" y2="380.0" stroke="#1e1e1e" stroke-width="1.10" />
<text transform="translate(109.4,389.0) scale(1.04,1)" font-family="Liberation Serif" font-size="8.3" fill="#1a1a1a" stroke="#1a1a1a" stroke-width="0.2" text-anchor="middle">300</text>
<line x1="130.5" y1="377.0" x2="130.5" y2="380.0" stroke="#1e1e1e" stroke-width="1.10" />
<text transform="translate(130.5,389.0) scale(1.04,1)" font-family="Liberation Serif" font-size="8.3" fill="#1a1a1a" stroke="#1a1a1a" stroke-width="0.2" text-anchor="middle">400</text>
<line x1="151.6" y1="377.0" x2="151.6" y2="380.0" stroke="#1e1e1e" stroke-width="1.10" />
<text transform="translate(151.6,389.0) scale(1.04,1)" font-family="Liberation Serif" font-size="8.3" fill="#1a1a1a" stroke="#1a1a1a" stroke-width="0.2" text-anchor="middle">500</text>
<line x1="172.7" y1="377.0" x2="172.7" y2="380.0" stroke="#1e1e1e" stroke-width="1.10" />
<text transform="translate(172.7,389.0) scale(1.04,1)" font-family="Liberation Serif" font-size="8.3" fill="#1a1a1a" stroke="#1a1a1a" stroke-width="0.2" text-anchor="middle">600</text>
<line x1="193.8" y1="377.0" x2="193.8" y2="380.0" stroke="#1e1e1e" stroke-width="1.10" />
<text transform="translate(193.8,389.0) scale(1.04,1)" font-family="Liberation Serif" font-size="8.3" fill="#1a1a1a" stroke="#1a1a1a" stroke-width="0.2" text-anchor="middle">700</text>
<line x1="214.9" y1="377.0" x2="214.9" y2="380.0" stroke="#1e1e1e" stroke-width="1.10" />
<text transform="translate(214.9,389.0) scale(1.04,1)" font-family="Liberation Serif" font-size="8.3" fill="#1a1a1a" stroke="#1a1a1a" stroke-width="0.2" text-anchor="middle">800</text>
<line x1="236.0" y1="377.0" x2="236.0" y2="380.0" stroke="#1e1e1e" stroke-width="1.10" />
<text transform="translate(236.0,389.0) scale(1.04,1)" font-family="Liberation Serif" font-size="8.3" fill="#1a1a1a" stroke="#1a1a1a" stroke-width="0.2" text-anchor="middle">900</text>
<line x1="56.7" y1="377.0" x2="56.7" y2="378.8" stroke="#1e1e1e" stroke-width="1.00" />
<line x1="77.8" y1="377.0" x2="77.8" y2="378.8" stroke="#1e1e1e" stroke-width="1.00" />
<line x1="98.8" y1="377.0" x2="98.8" y2="378.8" stroke="#1e1e1e" stroke-width="1.00" />
<line x1="120.0" y1="377.0" x2="120.0" y2="378.8" stroke="#1e1e1e" stroke-width="1.00" />
<line x1="141.1" y1="377.0" x2="141.1" y2="378.8" stroke="#1e1e1e" stroke-width="1.00" />
<line x1="162.2" y1="377.0" x2="162.2" y2="378.8" stroke="#1e1e1e" stroke-width="1.00" />
<line x1="183.2" y1="377.0" x2="183.2" y2="378.8" stroke="#1e1e1e" stroke-width="1.00" />
<line x1="204.4" y1="377.0" x2="204.4" y2="378.8" stroke="#1e1e1e" stroke-width="1.00" />
<line x1="225.4" y1="377.0" x2="225.4" y2="378.8" stroke="#1e1e1e" stroke-width="1.00" />
<line x1="237.2" y1="229.0" x2="240.2" y2="229.0" stroke="#e8242c" stroke-width="1.10" />
<text transform="translate(242.2,231.6) scale(1.04,1)" font-family="Liberation Serif" font-size="8.3" fill="#e8242c" stroke="#e8242c" stroke-width="0.2" text-anchor="start">0.1</text>
<line x1="237.2" y1="239.6" x2="239.0" y2="239.6" stroke="#e8242c" stroke-width="1.00" />
<line x1="237.2" y1="250.1" x2="240.2" y2="250.1" stroke="#e8242c" stroke-width="1.10" />
<text transform="translate(242.2,252.7) scale(1.04,1)" font-family="Liberation Serif" font-size="8.3" fill="#e8242c" stroke="#e8242c" stroke-width="0.2" text-anchor="start">0.0</text>
<line x1="237.2" y1="260.7" x2="239.0" y2="260.7" stroke="#e8242c" stroke-width="1.00" />
<line x1="237.2" y1="271.3" x2="240.2" y2="271.3" stroke="#e8242c" stroke-width="1.10" />
<text transform="translate(242.2,273.9) scale(1.04,1)" font-family="Liberation Serif" font-size="8.3" fill="#e8242c" stroke="#e8242c" stroke-width="0.2" text-anchor="start">-0.1</text>
<line x1="237.2" y1="281.9" x2="239.0" y2="281.9" stroke="#e8242c" stroke-width="1.00" />
<line x1="237.2" y1="292.4" x2="240.2" y2="292.4" stroke="#e8242c" stroke-width="1.10" />
<text transform="translate(242.2,295.0) scale(1.04,1)" font-family="Liberation Serif" font-size="8.3" fill="#e8242c" stroke="#e8242c" stroke-width="0.2" text-anchor="start">-0.2</text>
<line x1="237.2" y1="303.0" x2="239.0" y2="303.0" stroke="#e8242c" stroke-width="1.00" />
<line x1="237.2" y1="313.6" x2="240.2" y2="313.6" stroke="#e8242c" stroke-width="1.10" />
<text transform="translate(242.2,316.2) scale(1.04,1)" font-family="Liberation Serif" font-size="8.3" fill="#e8242c" stroke="#e8242c" stroke-width="0.2" text-anchor="start">-0.3</text>
<line x1="237.2" y1="324.1" x2="239.0" y2="324.1" stroke="#e8242c" stroke-width="1.00" />
<line x1="237.2" y1="334.7" x2="240.2" y2="334.7" stroke="#e8242c" stroke-width="1.10" />
<text transform="translate(242.2,337.3) scale(1.04,1)" font-family="Liberation Serif" font-size="8.3" fill="#e8242c" stroke="#e8242c" stroke-width="0.2" text-anchor="start">-0.4</text>
<line x1="237.2" y1="345.3" x2="239.0" y2="345.3" stroke="#e8242c" stroke-width="1.00" />
<line x1="237.2" y1="355.9" x2="240.2" y2="355.9" stroke="#e8242c" stroke-width="1.10" />
<text transform="translate(242.2,358.5) scale(1.04,1)" font-family="Liberation Serif" font-size="8.3" fill="#e8242c" stroke="#e8242c" stroke-width="0.2" text-anchor="start">-0.5</text>
<line x1="237.2" y1="366.4" x2="239.0" y2="366.4" stroke="#e8242c" stroke-width="1.00" />
<line x1="237.2" y1="377.0" x2="240.2" y2="377.0" stroke="#e8242c" stroke-width="1.10" />
<text transform="translate(242.2,379.6) scale(1.04,1)" font-family="Liberation Serif" font-size="8.3" fill="#e8242c" stroke="#e8242c" stroke-width="0.2" text-anchor="start">-0.6</text>
<text x="148.5" y="399.5" font-family="Liberation Serif" font-size="9.0" fill="#1a1a1a" stroke="#1a1a1a" stroke-width="0.14" text-anchor="middle" >Temperature(&#176;C)</text>
<text x="0.0" y="0.0" font-family="Liberation Serif" font-size="9.2" fill="#1a1a1a" stroke="#1a1a1a" stroke-width="0.14" text-anchor="middle" transform="translate(34.0,302) rotate(-90)">Mass loss(%)</text>
<text x="0.0" y="0.0" font-family="Liberation Serif" font-size="9.9" fill="#e8242c" stroke="#e8242c" stroke-width="0.15" text-anchor="middle" transform="translate(267.5,302) rotate(-90)">DTG(mg&#183;cm<tspan font-size="6.8" dy="-3.6">&#8722;1</tspan><tspan dy="3.6">)</tspan></text>
<line x1="348.8" y1="222.6" x2="370.1" y2="222.6" stroke="#303030" stroke-width="1.20" />
<text x="373.1" y="225.8" font-family="Liberation Serif" font-size="10.0" fill="#1a1a1a" stroke="#1a1a1a" stroke-width="0.16" text-anchor="start" >1d</text>
<line x1="383.2" y1="222.6" x2="404.5" y2="222.6" stroke="#80b8d8" stroke-width="1.20" />
<text x="407.5" y="225.8" font-family="Liberation Serif" font-size="10.0" fill="#1a1a1a" stroke="#1a1a1a" stroke-width="0.16" text-anchor="start" >3d</text>
<line x1="417.4" y1="222.6" x2="438.7" y2="222.6" stroke="#3a8a70" stroke-width="1.20" />
<text x="441.7" y="225.8" font-family="Liberation Serif" font-size="10.0" fill="#1a1a1a" stroke="#1a1a1a" stroke-width="0.16" text-anchor="start" >7d</text>
<line x1="451.7" y1="222.6" x2="473.0" y2="222.6" stroke="#8050c8" stroke-width="1.20" />
<text x="476.0" y="225.8" font-family="Liberation Serif" font-size="10.0" fill="#1a1a1a" stroke="#1a1a1a" stroke-width="0.16" text-anchor="start" >28d</text>
<text x="282.2" y="235.0" font-family="Liberation Serif" font-size="21.0" fill="#111" stroke="#111" stroke-width="0.30" text-anchor="start" >(c)</text>
<path d="M330.5,242.7 C331.2,243.3 333.6,243.9 334.9,246.1 C336.2,248.2 337.1,252.9 338.3,255.6 C339.5,258.3 340.7,259.9 341.8,262.5 C342.9,265.1 344.1,268.8 345.2,271.1 C346.3,273.4 347.5,274.9 348.7,276.3 C349.9,277.7 349.3,278.2 352.1,279.7 C354.9,281.1 361.0,283.0 365.5,285.0 C370.0,287.0 374.2,289.0 379.1,291.8 C384.0,294.6 389.7,298.5 394.8,301.8 C399.9,305.1 404.6,308.8 409.5,311.4 C414.4,314.0 418.4,315.6 424.3,317.3 C430.2,319.0 436.7,319.5 445.0,321.3 C453.3,323.1 467.4,325.5 474.1,328.0 C480.8,330.5 481.6,334.4 485.0,336.1 C488.4,337.8 489.8,337.7 494.6,338.2 C499.4,338.7 510.8,338.8 514.0,338.9" fill="none" stroke="#383838" stroke-width="1.20" stroke-linejoin="round" />
<path d="M330.5,242.7 C331.2,243.3 333.6,243.9 334.9,246.1 C336.2,248.2 337.1,252.9 338.3,255.6 C339.5,258.3 340.7,259.9 341.8,262.5 C342.9,265.1 344.1,268.8 345.2,271.1 C346.3,273.4 347.5,274.8 348.7,276.3 C349.9,277.8 349.3,278.5 352.1,280.0 C354.9,281.5 361.0,283.4 365.5,285.5 C370.0,287.6 374.2,289.7 379.1,292.5 C384.0,295.3 389.7,299.1 394.8,302.3 C399.9,305.6 404.6,309.4 409.5,312.0 C414.4,314.6 418.4,316.3 424.3,318.0 C430.2,319.7 436.7,320.2 445.0,322.0 C453.3,323.8 467.4,326.0 474.1,328.5 C480.8,331.0 481.6,335.1 485.0,336.8 C488.4,338.6 489.8,338.4 494.6,339.0 C499.4,339.6 510.8,340.2 514.0,340.4" fill="none" stroke="#6f9fd0" stroke-width="1.20" stroke-linejoin="round" />
<path d="M330.5,242.7 C331.2,243.3 333.6,243.9 334.9,246.1 C336.2,248.2 337.1,252.9 338.3,255.6 C339.5,258.3 340.7,259.9 341.8,262.5 C342.9,265.1 344.1,268.7 345.2,271.1 C346.3,273.5 347.5,275.1 348.7,277.0 C349.9,278.9 349.3,280.6 352.1,282.3 C354.9,284.0 361.0,285.0 365.5,287.0 C370.0,289.0 374.2,291.5 379.1,294.5 C384.0,297.5 389.7,301.2 394.8,304.8 C399.9,308.4 404.6,312.4 409.5,315.8 C414.4,319.2 418.4,322.9 424.3,325.5 C430.2,328.1 436.7,329.3 445.0,331.4 C453.3,333.5 467.2,335.2 474.1,338.2 C481.0,341.1 483.0,346.8 486.4,349.1 C489.8,351.4 490.0,351.1 494.6,351.8 C499.2,352.5 510.8,353.0 514.0,353.2" fill="none" stroke="#4a8a72" stroke-width="1.20" stroke-linejoin="round" />
<path d="M330.5,242.7 C331.2,243.4 333.3,243.7 334.9,247.0 C336.5,250.3 338.3,257.3 340.0,262.5 C341.7,267.7 343.5,273.4 345.2,278.0 C346.9,282.6 348.2,286.6 350.4,290.0 C352.6,293.4 355.0,295.8 358.6,298.6 C362.2,301.4 368.7,304.4 372.3,306.8 C375.9,309.2 376.2,310.5 380.0,312.9 C383.8,315.3 389.9,318.2 394.8,321.0 C399.7,323.8 404.6,326.9 409.5,329.9 C414.4,332.8 418.4,335.5 424.3,338.7 C430.2,341.9 440.1,346.8 445.0,349.0 C449.9,351.2 449.4,350.7 453.6,351.8 C457.8,352.9 466.4,354.6 470.0,355.9 C473.6,357.1 473.0,358.5 475.5,359.3 C478.0,360.1 481.8,359.8 485.0,360.7 C488.2,361.6 489.8,363.9 494.6,364.8 C499.4,365.7 510.8,366.0 514.0,366.2" fill="none" stroke="#8a5ad0" stroke-width="1.20" stroke-linejoin="round" />
<path d="M330.5,245.0 C330.8,249.2 331.2,257.5 332.0,270.0 C332.8,282.5 334.3,306.5 335.5,320.0 C336.7,333.5 337.8,348.5 339.0,351.0 C340.2,353.5 341.0,344.9 342.5,335.0 C344.0,325.1 346.2,302.2 347.8,291.8 C349.4,281.4 350.7,277.7 352.1,272.8 C353.5,267.9 355.2,264.6 356.4,262.5 C357.6,260.4 358.4,261.0 359.4,260.4 C360.5,259.8 361.6,259.0 362.5,258.7 C363.4,258.4 364.2,258.9 365.1,258.7 C365.9,258.6 366.8,257.8 367.6,257.9 C368.5,257.9 369.4,258.8 370.2,258.9 C371.1,259.0 371.9,258.2 372.8,258.2 C373.7,258.2 374.8,258.6 375.8,258.8 C376.8,259.0 377.8,259.2 378.9,259.2 C379.9,259.2 380.9,258.5 381.9,258.5 C382.9,258.5 384.0,259.0 384.9,259.0 C385.8,259.0 386.6,258.6 387.4,258.5 C388.3,258.4 389.1,258.3 389.9,258.2 C390.8,258.2 391.6,258.2 392.5,258.3 C393.3,258.3 394.1,258.6 395.0,258.5 C395.9,258.4 396.7,257.6 397.6,257.4 C398.5,257.3 399.3,257.8 400.2,257.7 C401.1,257.6 401.9,257.0 402.8,256.8 C403.7,256.7 404.5,257.0 405.4,256.9 C406.3,256.7 407.1,256.3 408.0,256.0 C408.9,255.7 409.7,255.7 410.6,255.3 C411.4,254.9 412.3,254.2 413.1,253.8 C414.0,253.3 414.8,252.8 415.7,252.5 C416.6,252.2 417.4,252.1 418.3,251.7 C419.1,251.3 420.0,250.6 420.8,250.3 C421.7,250.0 422.4,249.5 423.4,249.8 C424.4,250.1 425.6,251.4 426.6,252.2 C427.7,252.9 428.9,254.0 429.9,254.2 C430.9,254.4 431.8,253.4 432.8,253.1 C433.8,252.8 434.7,252.5 435.7,252.3 C436.7,252.1 437.6,252.1 438.6,252.0 C439.6,251.9 440.6,252.1 441.5,251.9 C442.5,251.7 443.5,251.1 444.5,250.8 C445.4,250.5 446.4,250.5 447.4,250.3 C448.4,250.1 449.6,249.9 450.6,249.5 C451.7,249.0 452.6,248.3 453.9,247.6 C455.2,246.9 457.1,245.4 458.3,245.0 C459.5,244.6 460.2,245.2 461.2,245.0 C462.2,244.9 463.1,244.3 464.1,244.1 C465.1,243.8 465.8,242.3 467.0,243.3 C468.2,244.3 469.4,244.9 471.4,250.0 C473.4,255.1 476.5,273.3 479.0,273.8 C481.5,274.3 484.3,257.9 486.6,253.0 C488.9,248.1 491.4,246.1 493.0,244.4 C494.6,242.7 495.0,243.2 496.0,242.6 C497.0,242.0 498.0,241.4 499.0,240.8 C500.0,240.2 501.0,239.2 502.0,239.0 C503.0,238.8 504.0,239.2 505.0,239.3 C506.0,239.4 507.0,239.3 508.0,239.4 C509.0,239.5 510.0,240.0 511.0,240.1 C512.0,240.2 513.5,240.0 514.0,240.0" fill="none" stroke="#8a5ad0" stroke-width="1.20" stroke-linejoin="round" />
<path d="M330.8,262.0 C331.0,265.8 331.2,275.3 332.0,285.0 C332.8,294.7 334.3,312.1 335.5,320.0 C336.7,327.9 337.8,332.2 339.0,332.2 C340.2,332.2 341.2,327.9 342.5,320.0 C343.8,312.1 345.4,294.5 347.0,284.9 C348.6,275.3 350.7,267.7 352.1,262.5 C353.5,257.3 354.3,255.8 355.6,253.9 C356.9,252.0 358.7,251.8 359.9,251.3 C361.1,250.8 361.9,251.1 362.9,251.2 C363.9,251.3 365.0,251.8 365.9,252.1 C366.8,252.4 367.6,252.5 368.5,252.9 C369.4,253.2 370.2,253.8 371.1,254.0 C372.0,254.2 372.8,253.7 373.7,253.9 C374.6,254.0 375.4,254.5 376.3,254.7 C377.2,254.9 378.2,255.1 379.2,255.2 C380.1,255.3 381.1,255.3 382.0,255.4 C383.0,255.6 384.0,255.7 384.9,256.0 C385.8,256.3 386.6,257.0 387.4,257.5 C388.3,257.9 389.1,258.2 389.9,258.6 C390.8,258.9 391.6,259.3 392.5,259.6 C393.3,260.0 394.1,260.4 395.0,260.7 C395.9,261.0 396.7,261.2 397.6,261.3 C398.5,261.3 399.3,261.1 400.2,261.0 C401.1,260.9 401.9,260.6 402.8,260.6 C403.7,260.5 404.5,260.6 405.4,260.6 C406.3,260.7 407.1,261.1 408.0,260.8 C408.9,260.5 409.7,259.5 410.6,258.8 C411.5,258.1 412.3,257.4 413.2,256.6 C414.1,255.8 414.9,254.6 415.8,253.9 C416.7,253.2 417.5,253.0 418.4,252.4 C419.3,251.7 420.1,250.3 421.0,249.8 C421.9,249.3 422.7,249.4 423.5,249.3 C424.4,249.3 425.2,249.5 426.0,249.3 C426.9,249.1 427.7,248.3 428.5,248.1 C429.4,247.9 430.2,248.1 431.1,248.0 C431.9,247.8 432.7,247.3 433.6,247.2 C434.4,247.1 435.2,247.3 436.1,247.3 C436.9,247.3 437.7,247.2 438.6,247.0 C439.5,246.8 440.3,246.5 441.2,246.3 C442.1,246.1 443.0,246.2 443.8,246.0 C444.7,245.9 445.6,245.5 446.5,245.5 C447.3,245.4 448.2,245.9 449.1,245.8 C450.0,245.7 450.8,245.2 451.7,245.0 C452.6,244.8 453.4,245.0 454.2,244.9 C455.1,244.8 455.9,244.4 456.8,244.3 C457.7,244.2 458.5,244.4 459.4,244.2 C460.2,244.1 461.0,243.6 461.9,243.6 C462.8,243.6 463.6,244.3 464.4,244.3 C465.3,244.3 465.8,242.5 467.0,243.5 C468.2,244.5 469.4,245.3 471.4,250.0 C473.4,254.7 476.5,271.3 479.0,271.6 C481.5,271.9 484.2,256.9 486.6,252.0 C489.0,247.1 491.6,243.9 493.2,242.0 C494.8,240.1 495.2,241.0 496.1,240.6 C497.1,240.3 498.1,240.3 499.1,240.0 C500.0,239.7 501.0,239.1 502.0,239.0 C503.0,238.9 504.0,239.1 505.0,239.3 C506.0,239.4 507.0,239.8 508.0,240.0 C509.0,240.1 510.0,240.1 511.0,240.1 C512.0,240.1 513.5,240.0 514.0,240.0" fill="none" stroke="#4a8a72" stroke-width="1.20" stroke-linejoin="round" />
<path d="M330.8,262.0 C331.0,265.8 331.2,275.7 332.0,285.0 C332.8,294.3 334.3,310.3 335.5,318.0 C336.7,325.7 337.8,330.8 339.0,331.0 C340.2,331.2 341.3,324.8 342.5,319.0 C343.7,313.2 344.9,302.7 346.0,296.0 C347.1,289.3 348.0,284.6 349.0,279.0 C350.0,273.4 351.0,266.8 352.1,262.5 C353.2,258.2 354.3,254.9 355.6,253.0 C356.9,251.1 358.7,251.3 359.9,251.0 C361.1,250.7 361.9,251.1 362.9,251.3 C363.9,251.5 365.0,251.8 365.9,252.1 C366.8,252.4 367.6,252.7 368.5,253.0 C369.4,253.3 370.2,253.6 371.1,253.9 C372.0,254.2 372.8,254.4 373.7,254.7 C374.6,255.0 375.4,255.4 376.3,255.6 C377.2,255.8 378.2,255.8 379.2,255.8 C380.1,255.9 381.1,255.8 382.0,255.9 C383.0,255.9 384.0,255.9 384.9,256.0 C385.8,256.1 386.6,256.2 387.5,256.3 C388.3,256.3 389.2,256.1 390.0,256.1 C390.9,256.1 391.7,256.2 392.6,256.3 C393.5,256.4 394.3,256.5 395.2,256.7 C396.0,256.9 396.9,257.5 397.7,257.6 C398.6,257.6 399.4,256.9 400.3,256.9 C401.2,256.9 402.0,257.4 402.9,257.5 C403.7,257.7 404.6,257.8 405.4,257.9 C406.3,258.0 407.1,258.4 408.0,258.2 C408.9,258.0 409.8,257.2 410.6,256.6 C411.5,256.1 412.4,255.3 413.3,254.8 C414.2,254.4 415.0,254.2 415.9,253.7 C416.8,253.3 417.7,252.8 418.6,252.2 C419.4,251.5 420.3,250.4 421.2,250.0 C422.1,249.6 423.1,249.8 424.1,249.6 C425.1,249.4 426.0,248.7 427.0,248.6 C428.0,248.5 428.9,249.0 429.9,249.0 C430.9,248.9 431.8,248.7 432.8,248.4 C433.8,248.2 434.7,247.7 435.7,247.5 C436.7,247.2 437.7,247.1 438.6,247.0 C439.5,246.9 440.3,247.0 441.2,247.0 C442.1,246.9 443.0,246.8 443.8,246.7 C444.7,246.6 445.6,246.6 446.5,246.3 C447.3,246.1 448.2,245.3 449.1,245.1 C450.0,244.9 450.8,245.1 451.7,245.0 C452.6,244.9 453.4,244.4 454.2,244.4 C455.1,244.4 455.9,244.9 456.8,244.9 C457.7,244.8 458.5,244.2 459.4,244.0 C460.2,243.8 461.0,243.9 461.9,243.7 C462.8,243.6 463.6,243.2 464.4,243.2 C465.3,243.2 465.8,242.5 467.0,243.5 C468.2,244.5 469.4,244.8 471.4,249.0 C473.4,253.2 476.5,268.1 479.0,268.4 C481.5,268.7 484.2,255.4 486.6,251.0 C489.0,246.6 491.6,243.7 493.2,242.0 C494.8,240.3 495.2,241.3 496.1,241.0 C497.1,240.7 498.1,240.7 499.1,240.4 C500.0,240.0 501.0,239.3 502.0,239.0 C503.0,238.7 504.0,238.8 505.0,238.8 C506.0,238.9 507.0,239.3 508.0,239.4 C509.0,239.5 510.0,239.2 511.0,239.3 C512.0,239.4 513.5,239.9 514.0,240.0" fill="none" stroke="#6f9fd0" stroke-width="1.20" stroke-linejoin="round" />
<path d="M330.8,262.0 C331.0,265.8 331.2,275.7 332.0,285.0 C332.8,294.3 334.3,310.5 335.5,318.0 C336.7,325.5 337.8,330.0 339.0,330.0 C340.2,330.0 341.3,323.8 342.5,318.0 C343.7,312.2 344.9,301.7 346.0,295.0 C347.1,288.3 348.0,283.4 349.0,278.0 C350.0,272.6 351.0,266.5 352.1,262.5 C353.2,258.5 354.3,255.8 355.6,253.9 C356.9,252.0 358.7,251.6 359.9,251.3 C361.1,251.0 361.9,252.0 362.9,252.1 C363.9,252.3 365.0,252.0 365.9,252.1 C366.8,252.2 367.6,252.5 368.5,252.6 C369.4,252.6 370.2,252.5 371.1,252.5 C372.0,252.6 372.8,252.8 373.7,253.0 C374.6,253.2 375.4,253.8 376.3,253.9 C377.2,254.0 378.2,253.6 379.2,253.7 C380.1,253.8 381.1,254.4 382.0,254.4 C383.0,254.5 384.0,254.0 384.9,254.0 C385.8,254.0 386.6,254.4 387.5,254.3 C388.3,254.2 389.2,253.5 390.1,253.4 C390.9,253.2 391.8,253.3 392.6,253.3 C393.5,253.2 394.4,253.0 395.2,253.1 C396.1,253.1 396.9,253.5 397.8,253.4 C398.6,253.3 399.5,252.8 400.4,252.6 C401.2,252.4 402.1,252.3 402.9,252.2 C403.8,252.2 404.7,252.3 405.5,252.2 C406.4,252.2 407.2,252.3 408.1,252.0 C409.0,251.7 409.8,250.7 410.7,250.3 C411.6,249.9 412.5,250.2 413.3,249.8 C414.2,249.5 415.1,248.6 416.0,248.3 C416.8,247.9 417.7,248.3 418.6,248.0 C419.5,247.7 420.2,246.6 421.2,246.5 C422.2,246.4 423.4,247.2 424.4,247.5 C425.5,247.9 426.7,248.6 427.7,248.7 C428.7,248.8 429.5,248.6 430.4,248.3 C431.3,248.0 432.2,247.2 433.1,246.8 C434.1,246.3 435.0,245.9 435.9,245.6 C436.8,245.4 437.7,245.0 438.6,245.0 C439.5,245.0 440.3,245.4 441.2,245.5 C442.1,245.5 443.0,245.4 443.8,245.2 C444.7,245.0 445.6,244.1 446.5,244.0 C447.3,244.0 448.2,245.0 449.1,245.1 C450.0,245.2 450.8,244.5 451.7,244.4 C452.6,244.3 453.4,244.6 454.2,244.6 C455.1,244.7 455.9,244.7 456.8,244.5 C457.7,244.4 458.5,244.0 459.4,243.9 C460.2,243.8 461.0,244.0 461.9,244.0 C462.8,243.9 463.6,243.9 464.4,243.7 C465.3,243.6 465.8,242.7 467.0,243.3 C468.2,243.9 469.4,244.5 471.4,247.6 C473.4,250.7 476.5,261.4 479.0,261.8 C481.5,262.2 484.2,253.2 486.6,249.8 C489.0,246.4 491.6,243.0 493.2,241.5 C494.8,240.0 495.2,241.1 496.1,240.9 C497.1,240.6 498.1,240.5 499.1,240.2 C500.0,239.9 501.0,239.1 502.0,238.9 C503.0,238.7 504.0,238.7 505.0,238.7 C506.0,238.7 507.0,238.7 508.0,239.0 C509.0,239.2 510.0,240.0 511.0,240.2 C512.0,240.4 513.5,240.0 514.0,240.0" fill="none" stroke="#383838" stroke-width="1.20" stroke-linejoin="round" />
<rect x="330.5" y="276.8" width="20.4" height="82.6" fill="#f8d878" fill-opacity="0.58"/>
<line x1="330.5" y1="240.4" x2="383.2" y2="240.4" stroke="#555" stroke-width="1.10" stroke-dasharray="1.3,2.4"/>
<line x1="330.5" y1="274.8" x2="350.4" y2="274.8" stroke="#777" stroke-width="1.10" stroke-dasharray="1.3,2.4"/>
<line x1="330.5" y1="279.8" x2="362.0" y2="279.8" stroke="#888" stroke-width="1.10" stroke-dasharray="1.3,2.4"/>
<line x1="330.5" y1="283.6" x2="370.2" y2="283.6" stroke="#888" stroke-width="1.10" stroke-dasharray="1.3,2.4"/>
<line x1="330.5" y1="290.9" x2="390.0" y2="290.9" stroke="#555" stroke-width="1.10" stroke-dasharray="1.3,2.4"/>
<line x1="338.2" y1="290.0" x2="338.2" y2="377.0" stroke="#c88848" stroke-width="1.20" stroke-dasharray="3.5,2.6"/>
<line x1="332.5" y1="355.1" x2="349.3" y2="355.1" stroke="#c06020" stroke-width="0.90" />
<polygon points="349.3,355.1 345.5,356.8 345.5,353.4" fill="#c06020"/>
<line x1="349.9" y1="322.5" x2="360.3" y2="329.6" stroke="#e05030" stroke-width="0.80" />
<polygon points="360.3,329.6 356.4,329.1 358.4,326.1" fill="#e05030"/>
<text x="360.8" y="339.8" font-family="Liberation Serif" font-size="8.7" fill="#948444" stroke="#948444" stroke-width="0.25" text-anchor="start" >C-(A)-S-H</text>
<line x1="348.3" y1="258.0" x2="348.3" y2="241.5" stroke="#202020" stroke-width="1.00" />
<polygon points="348.3,241.5 349.9,245.0 346.7,245.0" fill="#202020"/>
<line x1="348.3" y1="258.0" x2="348.3" y2="274.5" stroke="#202020" stroke-width="1.00" />
<polygon points="348.3,274.5 346.7,271.0 349.9,271.0" fill="#202020"/>
<line x1="359.9" y1="251.3" x2="359.9" y2="241.5" stroke="#5070b0" stroke-width="1.00" />
<polygon points="359.9,241.5 361.5,245.0 358.3,245.0" fill="#5070b0"/>
<line x1="359.9" y1="273.5" x2="359.9" y2="279.8" stroke="#5070b0" stroke-width="1.00" />
<polygon points="359.9,279.8 358.3,276.3 361.5,276.3" fill="#5070b0"/>
<line x1="371.1" y1="252.1" x2="371.1" y2="241.5" stroke="#3a8a70" stroke-width="1.00" />
<polygon points="371.1,241.5 372.7,245.0 369.5,245.0" fill="#3a8a70"/>
<line x1="371.1" y1="273.5" x2="371.1" y2="283.4" stroke="#3a8a70" stroke-width="1.00" />
<polygon points="371.1,283.4 369.5,279.9 372.7,279.9" fill="#3a8a70"/>
<line x1="384.9" y1="259.0" x2="384.9" y2="241.5" stroke="#9060d0" stroke-width="1.00" />
<polygon points="384.9,241.5 386.5,245.0 383.3,245.0" fill="#9060d0"/>
<line x1="384.9" y1="278.0" x2="384.9" y2="290.6" stroke="#9060d0" stroke-width="1.00" />
<polygon points="384.9,290.6 383.3,287.1 386.5,287.1" fill="#9060d0"/>
<text x="338.7" y="255.1" font-family="Liberation Serif" font-size="7.6" fill="#333" stroke="#333" stroke-width="0.12" text-anchor="start" >2.96%</text>
<text x="367.7" y="266.3" font-family="Liberation Serif" font-size="7.6" fill="#4a9080" stroke="#4a9080" stroke-width="0.12" text-anchor="start" >3.72%</text>
<text x="355.6" y="272.4" font-family="Liberation Serif" font-size="7.6" fill="#6080b0" stroke="#6080b0" stroke-width="0.12" text-anchor="start" >3.59%</text>
<text x="379.7" y="276.2" font-family="Liberation Serif" font-size="7.6" fill="#9060d0" stroke="#9060d0" stroke-width="0.12" text-anchor="start" >4.53%</text>
<line x1="330.5" y1="229.2" x2="514.2" y2="229.2" stroke="#1e1e1e" stroke-width="1.40" />
<line x1="330.5" y1="377.0" x2="514.2" y2="377.0" stroke="#1e1e1e" stroke-width="1.40" />
<line x1="330.5" y1="229.2" x2="330.5" y2="377.0" stroke="#1e1e1e" stroke-width="1.40" />
<line x1="514.2" y1="229.2" x2="514.2" y2="377.0" stroke="#e8242c" stroke-width="1.40" />
<line x1="327.5" y1="376.5" x2="330.5" y2="376.5" stroke="#1e1e1e" stroke-width="1.10" />
<text transform="translate(325.6,378.8) scale(1.04,1)" font-family="Liberation Serif" font-size="8.3" fill="#1a1a1a" stroke="#1a1a1a" stroke-width="0.2" text-anchor="end">88</text>
<line x1="327.5" y1="353.8" x2="330.5" y2="353.8" stroke="#1e1e1e" stroke-width="1.10" />
<text transform="translate(325.6,356.1) scale(1.04,1)" font-family="Liberation Serif" font-size="8.3" fill="#1a1a1a" stroke="#1a1a1a" stroke-width="0.2" text-anchor="end">90</text>
<line x1="327.5" y1="331.1" x2="330.5" y2="331.1" stroke="#1e1e1e" stroke-width="1.10" />
<text transform="translate(325.6,333.4) scale(1.04,1)" font-family="Liberation Serif" font-size="8.3" fill="#1a1a1a" stroke="#1a1a1a" stroke-width="0.2" text-anchor="end">92</text>
<line x1="327.5" y1="308.4" x2="330.5" y2="308.4" stroke="#1e1e1e" stroke-width="1.10" />
<text transform="translate(325.6,310.7) scale(1.04,1)" font-family="Liberation Serif" font-size="8.3" fill="#1a1a1a" stroke="#1a1a1a" stroke-width="0.2" text-anchor="end">94</text>
<line x1="327.5" y1="285.7" x2="330.5" y2="285.7" stroke="#1e1e1e" stroke-width="1.10" />
<text transform="translate(325.6,288.0) scale(1.04,1)" font-family="Liberation Serif" font-size="8.3" fill="#1a1a1a" stroke="#1a1a1a" stroke-width="0.2" text-anchor="end">96</text>
<line x1="327.5" y1="263.0" x2="330.5" y2="263.0" stroke="#1e1e1e" stroke-width="1.10" />
<text transform="translate(325.6,265.3) scale(1.04,1)" font-family="Liberation Serif" font-size="8.3" fill="#1a1a1a" stroke="#1a1a1a" stroke-width="0.2" text-anchor="end">98</text>
<line x1="327.5" y1="240.3" x2="330.5" y2="240.3" stroke="#1e1e1e" stroke-width="1.10" />
<text transform="translate(325.6,242.6) scale(1.04,1)" font-family="Liberation Serif" font-size="8.3" fill="#1a1a1a" stroke="#1a1a1a" stroke-width="0.2" text-anchor="end">100</text>
<line x1="343.9" y1="377.0" x2="343.9" y2="380.0" stroke="#1e1e1e" stroke-width="1.10" />
<line x1="343.9" y1="229.2" x2="343.9" y2="231.4" stroke="#1e1e1e" stroke-width="1.00" />
<text transform="translate(343.9,389.0) scale(1.04,1)" font-family="Liberation Serif" font-size="8.3" fill="#1a1a1a" stroke="#1a1a1a" stroke-width="0.2" text-anchor="middle">100</text>
<line x1="365.2" y1="377.0" x2="365.2" y2="380.0" stroke="#1e1e1e" stroke-width="1.10" />
<line x1="365.2" y1="229.2" x2="365.2" y2="231.4" stroke="#1e1e1e" stroke-width="1.00" />
<text transform="translate(365.2,389.0) scale(1.04,1)" font-family="Liberation Serif" font-size="8.3" fill="#1a1a1a" stroke="#1a1a1a" stroke-width="0.2" text-anchor="middle">200</text>
<line x1="386.5" y1="377.0" x2="386.5" y2="380.0" stroke="#1e1e1e" stroke-width="1.10" />
<line x1="386.5" y1="229.2" x2="386.5" y2="231.4" stroke="#1e1e1e" stroke-width="1.00" />
<text transform="translate(386.5,389.0) scale(1.04,1)" font-family="Liberation Serif" font-size="8.3" fill="#1a1a1a" stroke="#1a1a1a" stroke-width="0.2" text-anchor="middle">300</text>
<line x1="407.8" y1="377.0" x2="407.8" y2="380.0" stroke="#1e1e1e" stroke-width="1.10" />
<line x1="407.8" y1="229.2" x2="407.8" y2="231.4" stroke="#1e1e1e" stroke-width="1.00" />
<text transform="translate(407.8,389.0) scale(1.04,1)" font-family="Liberation Serif" font-size="8.3" fill="#1a1a1a" stroke="#1a1a1a" stroke-width="0.2" text-anchor="middle">400</text>
<line x1="429.1" y1="377.0" x2="429.1" y2="380.0" stroke="#1e1e1e" stroke-width="1.10" />
<line x1="429.1" y1="229.2" x2="429.1" y2="231.4" stroke="#1e1e1e" stroke-width="1.00" />
<text transform="translate(429.1,389.0) scale(1.04,1)" font-family="Liberation Serif" font-size="8.3" fill="#1a1a1a" stroke="#1a1a1a" stroke-width="0.2" text-anchor="middle">500</text>
<line x1="450.4" y1="377.0" x2="450.4" y2="380.0" stroke="#1e1e1e" stroke-width="1.10" />
<line x1="450.4" y1="229.2" x2="450.4" y2="231.4" stroke="#1e1e1e" stroke-width="1.00" />
<text transform="translate(450.4,389.0) scale(1.04,1)" font-family="Liberation Serif" font-size="8.3" fill="#1a1a1a" stroke="#1a1a1a" stroke-width="0.2" text-anchor="middle">600</text>
<line x1="471.7" y1="377.0" x2="471.7" y2="380.0" stroke="#1e1e1e" stroke-width="1.10" />
<line x1="471.7" y1="229.2" x2="471.7" y2="231.4" stroke="#1e1e1e" stroke-width="1.00" />
<text transform="translate(471.7,389.0) scale(1.04,1)" font-family="Liberation Serif" font-size="8.3" fill="#1a1a1a" stroke="#1a1a1a" stroke-width="0.2" text-anchor="middle">700</text>
<line x1="493.0" y1="377.0" x2="493.0" y2="380.0" stroke="#1e1e1e" stroke-width="1.10" />
<line x1="493.0" y1="229.2" x2="493.0" y2="231.4" stroke="#1e1e1e" stroke-width="1.00" />
<text transform="translate(493.0,389.0) scale(1.04,1)" font-family="Liberation Serif" font-size="8.3" fill="#1a1a1a" stroke="#1a1a1a" stroke-width="0.2" text-anchor="middle">800</text>
<line x1="514.3" y1="377.0" x2="514.3" y2="380.0" stroke="#1e1e1e" stroke-width="1.10" />
<line x1="514.3" y1="229.2" x2="514.3" y2="231.4" stroke="#1e1e1e" stroke-width="1.00" />
<text transform="translate(514.3,389.0) scale(1.04,1)" font-family="Liberation Serif" font-size="8.3" fill="#1a1a1a" stroke="#1a1a1a" stroke-width="0.2" text-anchor="middle">900</text>
<line x1="333.2" y1="377.0" x2="333.2" y2="378.8" stroke="#1e1e1e" stroke-width="1.00" />
<line x1="333.2" y1="229.2" x2="333.2" y2="230.8" stroke="#1e1e1e" stroke-width="1.00" />
<line x1="354.5" y1="377.0" x2="354.5" y2="378.8" stroke="#1e1e1e" stroke-width="1.00" />
<line x1="354.5" y1="229.2" x2="354.5" y2="230.8" stroke="#1e1e1e" stroke-width="1.00" />
<line x1="375.8" y1="377.0" x2="375.8" y2="378.8" stroke="#1e1e1e" stroke-width="1.00" />
<line x1="375.8" y1="229.2" x2="375.8" y2="230.8" stroke="#1e1e1e" stroke-width="1.00" />
<line x1="397.1" y1="377.0" x2="397.1" y2="378.8" stroke="#1e1e1e" stroke-width="1.00" />
<line x1="397.1" y1="229.2" x2="397.1" y2="230.8" stroke="#1e1e1e" stroke-width="1.00" />
<line x1="418.4" y1="377.0" x2="418.4" y2="378.8" stroke="#1e1e1e" stroke-width="1.00" />
<line x1="418.4" y1="229.2" x2="418.4" y2="230.8" stroke="#1e1e1e" stroke-width="1.00" />
<line x1="439.8" y1="377.0" x2="439.8" y2="378.8" stroke="#1e1e1e" stroke-width="1.00" />
<line x1="439.8" y1="229.2" x2="439.8" y2="230.8" stroke="#1e1e1e" stroke-width="1.00" />
<line x1="461.0" y1="377.0" x2="461.0" y2="378.8" stroke="#1e1e1e" stroke-width="1.00" />
<line x1="461.0" y1="229.2" x2="461.0" y2="230.8" stroke="#1e1e1e" stroke-width="1.00" />
<line x1="482.3" y1="377.0" x2="482.3" y2="378.8" stroke="#1e1e1e" stroke-width="1.00" />
<line x1="482.3" y1="229.2" x2="482.3" y2="230.8" stroke="#1e1e1e" stroke-width="1.00" />
<line x1="503.6" y1="377.0" x2="503.6" y2="378.8" stroke="#1e1e1e" stroke-width="1.00" />
<line x1="503.6" y1="229.2" x2="503.6" y2="230.8" stroke="#1e1e1e" stroke-width="1.00" />
<line x1="514.2" y1="237.0" x2="517.2" y2="237.0" stroke="#e8242c" stroke-width="1.10" />
<text transform="translate(519.2,239.6) scale(1.04,1)" font-family="Liberation Serif" font-size="8.3" fill="#e8242c" stroke="#e8242c" stroke-width="0.2" text-anchor="start">0.0</text>
<line x1="514.2" y1="245.8" x2="516.0" y2="245.8" stroke="#e8242c" stroke-width="1.00" />
<line x1="514.2" y1="254.6" x2="517.2" y2="254.6" stroke="#e8242c" stroke-width="1.10" />
<text transform="translate(519.2,257.2) scale(1.04,1)" font-family="Liberation Serif" font-size="8.3" fill="#e8242c" stroke="#e8242c" stroke-width="0.2" text-anchor="start">-0.1</text>
<line x1="514.2" y1="263.4" x2="516.0" y2="263.4" stroke="#e8242c" stroke-width="1.00" />
<line x1="514.2" y1="272.2" x2="517.2" y2="272.2" stroke="#e8242c" stroke-width="1.10" />
<text transform="translate(519.2,274.8) scale(1.04,1)" font-family="Liberation Serif" font-size="8.3" fill="#e8242c" stroke="#e8242c" stroke-width="0.2" text-anchor="start">-0.2</text>
<line x1="514.2" y1="281.0" x2="516.0" y2="281.0" stroke="#e8242c" stroke-width="1.00" />
<line x1="514.2" y1="289.8" x2="517.2" y2="289.8" stroke="#e8242c" stroke-width="1.10" />
<text transform="translate(519.2,292.4) scale(1.04,1)" font-family="Liberation Serif" font-size="8.3" fill="#e8242c" stroke="#e8242c" stroke-width="0.2" text-anchor="start">-0.3</text>
<line x1="514.2" y1="298.6" x2="516.0" y2="298.6" stroke="#e8242c" stroke-width="1.00" />
<line x1="514.2" y1="307.4" x2="517.2" y2="307.4" stroke="#e8242c" stroke-width="1.10" />
<text transform="translate(519.2,310.0) scale(1.04,1)" font-family="Liberation Serif" font-size="8.3" fill="#e8242c" stroke="#e8242c" stroke-width="0.2" text-anchor="start">-0.4</text>
<line x1="514.2" y1="316.2" x2="516.0" y2="316.2" stroke="#e8242c" stroke-width="1.00" />
<line x1="514.2" y1="325.0" x2="517.2" y2="325.0" stroke="#e8242c" stroke-width="1.10" />
<text transform="translate(519.2,327.6) scale(1.04,1)" font-family="Liberation Serif" font-size="8.3" fill="#e8242c" stroke="#e8242c" stroke-width="0.2" text-anchor="start">-0.5</text>
<line x1="514.2" y1="333.8" x2="516.0" y2="333.8" stroke="#e8242c" stroke-width="1.00" />
<line x1="514.2" y1="342.6" x2="517.2" y2="342.6" stroke="#e8242c" stroke-width="1.10" />
<text transform="translate(519.2,345.2) scale(1.04,1)" font-family="Liberation Serif" font-size="8.3" fill="#e8242c" stroke="#e8242c" stroke-width="0.2" text-anchor="start">-0.6</text>
<line x1="514.2" y1="351.4" x2="516.0" y2="351.4" stroke="#e8242c" stroke-width="1.00" />
<line x1="514.2" y1="360.2" x2="517.2" y2="360.2" stroke="#e8242c" stroke-width="1.10" />
<text transform="translate(519.2,362.8) scale(1.04,1)" font-family="Liberation Serif" font-size="8.3" fill="#e8242c" stroke="#e8242c" stroke-width="0.2" text-anchor="start">-0.7</text>
<line x1="514.2" y1="369.0" x2="516.0" y2="369.0" stroke="#e8242c" stroke-width="1.00" />
<line x1="514.2" y1="377.8" x2="517.2" y2="377.8" stroke="#e8242c" stroke-width="1.10" />
<text transform="translate(519.2,380.4) scale(1.04,1)" font-family="Liberation Serif" font-size="8.3" fill="#e8242c" stroke="#e8242c" stroke-width="0.2" text-anchor="start">-0.8</text>
<text x="426.0" y="399.4" font-family="Liberation Serif" font-size="9.0" fill="#1a1a1a" stroke="#1a1a1a" stroke-width="0.14" text-anchor="middle" >Temperature(&#176;C)</text>
<text x="0.0" y="0.0" font-family="Liberation Serif" font-size="9.2" fill="#1a1a1a" stroke="#1a1a1a" stroke-width="0.14" text-anchor="middle" transform="translate(311.3,302) rotate(-90)">Mass loss(%)</text>
<text x="0.0" y="0.0" font-family="Liberation Serif" font-size="9.9" fill="#e8242c" stroke="#e8242c" stroke-width="0.15" text-anchor="middle" transform="translate(543.2,302) rotate(-90)">DTG(mg&#183;cm<tspan font-size="6.8" dy="-3.6">&#8722;1</tspan><tspan dy="3.6">)</tspan></text>
</svg></body></html>
